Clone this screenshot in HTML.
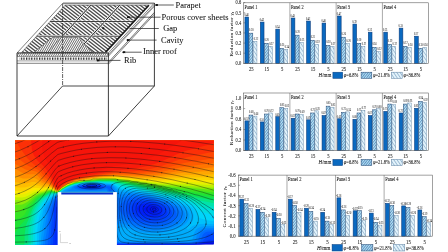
<!DOCTYPE html>
<html lang="en"><head><meta charset="utf-8"><title>Porous double-skin roof: model, flow field and wind load factors</title>
<style>html,body{margin:0;padding:0;background:#fff}svg{display:block}text{font-family:'Liberation Serif','DejaVu Serif',serif;stroke:#111;stroke-width:0.06px}</style></head><body>
<svg width="448" height="252" viewBox="0 0 448 252">
<defs>
<pattern id="h2" width="1.9" height="1.9" patternUnits="userSpaceOnUse" patternTransform="rotate(-52)"><rect width="1.9" height="1.9" fill="#b6dff3"/><rect width="1.9" height="0.6" fill="#2a68a6"/></pattern>
<pattern id="h3" width="2.7" height="2.7" patternUnits="userSpaceOnUse" patternTransform="rotate(56)"><rect width="2.7" height="2.7" fill="#e3f3fb"/><rect width="2.7" height="0.55" fill="#6a93b8"/></pattern>
<pattern id="stripe" width="2.72" height="2.72" patternUnits="userSpaceOnUse" patternTransform="rotate(38)"><rect width="2.72" height="2.72" fill="#fff"/><rect width="2.72" height="1.3" fill="#525252"/></pattern>
<pattern id="fine" width="1.45" height="1.45" patternUnits="userSpaceOnUse" patternTransform="rotate(-56)"><rect width="1.45" height="0.6" fill="#2c2c2c"/></pattern>
<pattern id="ticks" width="2.6" height="4" patternUnits="userSpaceOnUse"><rect width="1.25" height="4" fill="#262626"/></pattern>
<clipPath id="ncut"><path clip-rule="evenodd" d="M0,0H224V140H0Z M33.5,52.6 L52.4,37.4 L78.1,37.4 L92.5,52.6Z"/></clipPath>
</defs>
<rect width="448" height="252" fill="#fff"/>
<g id="sketch">
<clipPath id="cpan"><polygon points="21.66,52.40 105.48,52.40 148.86,5.25 65.04,5.25"/></clipPath>
<path clip-path="url(#cpan)" d="M75.56,-76.31L190.22,13.28M73.88,-74.16L188.55,15.42M72.21,-72.02L186.87,17.56M70.53,-69.88L185.20,19.71M68.86,-67.73L183.52,21.85M67.18,-65.59L181.85,23.99M65.51,-63.45L180.17,26.14M63.83,-61.30L178.50,28.28M62.16,-59.16L176.82,30.42M60.49,-57.02L175.15,32.57M58.81,-54.87L173.47,34.71M57.14,-52.73L171.80,36.85M55.46,-50.59L170.13,39.00M53.79,-48.44L168.45,41.14M52.11,-46.30L166.78,43.28M50.44,-44.16L165.10,45.43M48.76,-42.01L163.43,47.57M47.09,-39.87L161.75,49.72M45.41,-37.73L160.08,51.86M43.74,-35.58L158.40,54.00M42.07,-33.44L156.73,56.15M40.39,-31.30L155.05,58.29M38.72,-29.15L153.38,60.43M37.04,-27.01L151.70,62.58M35.37,-24.87L150.03,64.72M33.69,-22.72L148.36,66.86M32.02,-20.58L146.68,69.01M30.34,-18.44L145.01,71.15M28.67,-16.29L143.33,73.29M26.99,-14.15L141.66,75.44M25.32,-12.01L139.98,77.58M23.64,-9.86L138.31,79.72M21.97,-7.72L136.63,81.87M20.30,-5.58L134.96,84.01M18.62,-3.43L133.28,86.15M16.95,-1.29L131.61,88.30M15.27,0.85L129.93,90.44M13.60,3.00L128.26,92.58M11.92,5.14L126.59,94.73M10.25,7.28L124.91,96.87M8.57,9.43L123.24,99.01M6.90,11.57L121.56,101.16M5.22,13.72L119.89,103.30M3.55,15.86L118.21,105.44M1.87,18.00L116.54,107.59M0.20,20.15L114.86,109.73M-1.47,22.29L113.19,111.87M-3.15,24.43L111.51,114.02M-4.82,26.58L109.84,116.16M-6.50,28.72L108.17,118.30M-8.17,30.86L106.49,120.45M-9.85,33.01L104.82,122.59M-11.52,35.15L103.14,124.73M-13.20,37.29L101.47,126.88M-14.87,39.44L99.79,129.02M-16.55,41.58L98.12,131.16M-18.22,43.72L96.44,133.31" fill="none" stroke="#4c4c4c" stroke-width="1.3"/>
<polygon points="33.50,52.60 52.40,37.40 78.10,37.40 92.50,52.60" fill="#fff"/>
<clipPath id="ccut"><polygon points="33.50,52.60 52.40,37.40 78.10,37.40 92.50,52.60"/></clipPath>
<path clip-path="url(#ccut)" d="M16.04,56.05L49.08,-1.20M17.64,56.97L50.69,-0.27M19.24,57.90L52.29,0.65M20.84,58.82L53.89,1.58M22.44,59.75L55.49,2.50M24.05,60.67L57.09,3.43M25.65,61.60L58.70,4.35M27.25,62.52L60.30,5.28M28.85,63.45L61.90,6.20M30.45,64.37L63.50,7.13M32.06,65.30L65.10,8.05M33.66,66.22L66.71,8.98M35.26,67.15L68.31,9.90M36.86,68.07L69.91,10.83M38.47,69.00L71.51,11.75M40.07,69.92L73.12,12.68M41.67,70.85L74.72,13.60M43.27,71.77L76.32,14.53M44.87,72.70L77.92,15.45M46.48,73.62L79.52,16.38M48.08,74.55L81.13,17.30M49.68,75.47L82.73,18.23M51.28,76.40L84.33,19.15M52.88,77.32L85.93,20.08M54.49,78.25L87.53,21.00M56.09,79.17L89.14,21.93M57.69,80.10L90.74,22.85M59.29,81.02L92.34,23.78M60.90,81.95L93.94,24.70M62.50,82.87L95.55,25.63M64.10,83.80L97.15,26.55M65.70,84.72L98.75,27.48M67.30,85.65L100.35,28.40M68.91,86.57L101.95,29.33M70.51,87.50L103.56,30.25M72.11,88.42L105.16,31.18M73.71,89.35L106.76,32.10M75.31,90.27L108.36,33.03M76.92,91.20L109.96,33.95" fill="none" stroke="#2a2a2a" stroke-width="0.7"/>
<polygon points="33.50,52.60 52.40,37.40 78.10,37.40 92.50,52.60" fill="none" stroke="#333" stroke-width="0.5"/>
<g clip-path="url(#ncut)"><line x1="47.44" y1="52.40" x2="90.82" y2="5.25" stroke="#fff" stroke-width="2.0"/><line x1="47.44" y1="52.40" x2="90.82" y2="5.25" stroke="#1c1c1c" stroke-width="1.0"/></g>
<g clip-path="url(#ncut)"><line x1="36.52" y1="36.25" x2="120.34" y2="36.25" stroke="#fff" stroke-width="2.0"/><line x1="36.52" y1="36.25" x2="120.34" y2="36.25" stroke="#1c1c1c" stroke-width="0.85"/></g>
<g clip-path="url(#ncut)"><line x1="76.32" y1="52.40" x2="119.70" y2="5.25" stroke="#fff" stroke-width="2.0"/><line x1="76.32" y1="52.40" x2="119.70" y2="5.25" stroke="#1c1c1c" stroke-width="1.0"/></g>
<g clip-path="url(#ncut)"><line x1="50.09" y1="21.50" x2="133.91" y2="21.50" stroke="#fff" stroke-width="2.0"/><line x1="50.09" y1="21.50" x2="133.91" y2="21.50" stroke="#1c1c1c" stroke-width="0.85"/></g>
<line x1="47.44" y1="52.40" x2="90.82" y2="5.25" stroke="#333" stroke-width="0.4"/>
<line x1="76.32" y1="52.40" x2="119.70" y2="5.25" stroke="#333" stroke-width="0.4"/>
<line x1="62.6" y1="4" x2="62.6" y2="86" stroke="#222" stroke-width="0.7" stroke-dasharray="4 1 1 1"/>
<polygon points="17.00,53.00 108.40,53.00 154.40,3.00 63.00,3.00" fill="none" stroke="#2a2a2a" stroke-width="0.6"/>
<polyline points="62.86,3.75 153.16,3.75" fill="none" stroke="#2a2a2a" stroke-width="0.5"/>
<polygon points="21.66,52.40 105.48,52.40 148.86,5.25 65.04,5.25" fill="none" stroke="#2a2a2a" stroke-width="0.5"/>
<line x1="105.48" y1="52.40" x2="148.86" y2="5.25" stroke="#1e1e1e" stroke-width="1.7"/>
<line x1="108.40" y1="55.00" x2="154.40" y2="5.00" stroke="#2a2a2a" stroke-width="0.55"/>
<line x1="108.40" y1="56.30" x2="154.40" y2="6.30" stroke="#2a2a2a" stroke-width="0.5"/>
<line x1="108.40" y1="62.40" x2="154.40" y2="12.40" stroke="#2a2a2a" stroke-width="0.7"/>
<line x1="108.40" y1="64.20" x2="154.40" y2="14.20" stroke="#2a2a2a" stroke-width="0.6"/>
<line x1="17" y1="52.9" x2="108.4" y2="52.9" stroke="#2a2a2a" stroke-width="0.6"/>
<line x1="17" y1="56.4" x2="108.4" y2="56.4" stroke="#2a2a2a" stroke-width="0.45"/>
<line x1="17" y1="60.9" x2="108.4" y2="60.9" stroke="#2a2a2a" stroke-width="0.45"/>
<line x1="17" y1="63.3" x2="108.4" y2="63.3" stroke="#2a2a2a" stroke-width="0.6"/>
<rect x="19.5" y="57.5" width="87.5" height="2.3" fill="url(#ticks)"/>
<clipPath id="cfb"><rect x="17" y="53" width="91.4" height="3.4"/></clipPath><path clip-path="url(#cfb)" d="M-4.42,71.06L43.31,-11.61M-2.82,71.99L44.91,-10.69M-1.22,72.91L46.51,-9.76M0.38,73.84L48.11,-8.84M1.98,74.76L49.72,-7.91M3.59,75.69L51.32,-6.99M5.19,76.61L52.92,-6.06M6.79,77.54L54.52,-5.14M8.39,78.46L56.13,-4.21M10.00,79.39L57.73,-3.29M11.60,80.31L59.33,-2.36M13.20,81.24L60.93,-1.44M14.80,82.16L62.53,-0.51M16.40,83.09L64.14,0.41M18.01,84.01L65.74,1.34M19.61,84.94L67.34,2.26M21.21,85.86L68.94,3.19M22.81,86.79L70.54,4.11M24.41,87.71L72.15,5.04M26.02,88.64L73.75,5.96M27.62,89.56L75.35,6.89M29.22,90.49L76.95,7.81M30.82,91.41L78.56,8.74M32.43,92.34L80.16,9.66M34.03,93.26L81.76,10.59M35.63,94.19L83.36,11.51M37.23,95.11L84.96,12.44M38.83,96.04L86.57,13.36M40.44,96.96L88.17,14.29M42.04,97.89L89.77,15.21M43.64,98.81L91.37,16.14M45.24,99.74L92.97,17.06M46.84,100.66L94.58,17.99M48.45,101.59L96.18,18.91M50.05,102.51L97.78,19.84M51.65,103.44L99.38,20.76M53.25,104.36L100.99,21.69M54.86,105.29L102.59,22.61M56.46,106.21L104.19,23.54M58.06,107.14L105.79,24.46M59.66,108.06L107.39,25.39M61.26,108.99L109.00,26.31M62.87,109.91L110.60,27.24M64.47,110.84L112.20,28.16M66.07,111.76L113.80,29.09M67.67,112.69L115.40,30.01M69.27,113.61L117.01,30.94M70.88,114.54L118.61,31.86M72.48,115.46L120.21,32.79M74.08,116.39L121.81,33.71M75.68,117.31L123.42,34.64M77.29,118.24L125.02,35.56M78.89,119.16L126.62,36.49M80.49,120.09L128.22,37.41M82.09,121.01L129.82,38.34" fill="none" stroke="#333" stroke-width="0.65"/>
<path d="M17,53 V136 H108.4 V53 M108.4,136 L154.4,86 V3" fill="none" stroke="#1c1c1c" stroke-width="0.85"/>
<path d="M62.6,86 H154.4 M62.6,86 L17,136" fill="none" stroke="#1c1c1c" stroke-width="0.8"/>
<line x1="155.8" y1="5.0" x2="173.8" y2="5.0" stroke="#1a1a1a" stroke-width="0.7"/><circle cx="156.3" cy="5.0" r="1.05" fill="#111"/><path d="M155.20000000000002,5.0 l2.8,-1.1 v2.2 z" fill="#111"/>
<line x1="127.5" y1="17.2" x2="160.6" y2="17.2" stroke="#1a1a1a" stroke-width="0.7"/><circle cx="128.0" cy="17.2" r="1.05" fill="#111"/><path d="M126.9,17.2 l2.8,-1.1 v2.2 z" fill="#111"/>
<line x1="129.5" y1="28.5" x2="158.8" y2="28.5" stroke="#1a1a1a" stroke-width="0.7"/>
<line x1="127.2" y1="40.1" x2="156.6" y2="40.1" stroke="#1a1a1a" stroke-width="0.7"/><circle cx="127.7" cy="40.1" r="1.05" fill="#111"/><path d="M126.60000000000001,40.1 l2.8,-1.1 v2.2 z" fill="#111"/>
<line x1="123" y1="52.2" x2="141.7" y2="52.2" stroke="#1a1a1a" stroke-width="0.7"/><circle cx="123.5" cy="52.2" r="1.05" fill="#111"/><path d="M122.4,52.2 l2.8,-1.1 v2.2 z" fill="#111"/>
<line x1="97.2" y1="60.4" x2="120.5" y2="60.4" stroke="#1a1a1a" stroke-width="0.7"/><circle cx="97.7" cy="60.4" r="1.05" fill="#111"/><path d="M96.60000000000001,60.4 l2.8,-1.1 v2.2 z" fill="#111"/>
<circle cx="103.3" cy="28.3" r="1.1" fill="#111"/>
<text transform="translate(175.60,8.30) scale(0.945,1)" font-size="8.95" fill="#111">Parapet</text>
<text transform="translate(161.60,20.40) scale(0.945,1)" font-size="8.95" fill="#111">Porous cover sheets</text>
<text transform="translate(163.20,31.20) scale(0.945,1)" font-size="8.95" fill="#111">Gap</text>
<text transform="translate(161.00,43.00) scale(0.945,1)" font-size="8.95" fill="#111">Cavity</text>
<text transform="translate(142.90,54.00) scale(0.945,1)" font-size="8.95" fill="#111">Inner roof</text>
<text transform="translate(124.00,63.30) scale(0.945,1)" font-size="8.95" fill="#111">Rib</text>
</g>
<clipPath id="cfdclip"><rect x="15.0" y="140.5" width="198.7" height="104.1"/></clipPath>
<g id="cfd" clip-path="url(#cfdclip)">
<rect x="14.0" y="139.5" width="200.7" height="106.1" fill="#0000c8"/>
<path d="M14,138.5l201,0l0,105.7l-9,0.1l-9,1l-7,0.5l-71-0.1l-3,0.3l-1.4,0.5l-101.6,0l0-108z" fill="#000adf" fill-rule="evenodd"/>
<path d="M14,138.5l201,0l0,104.8l-8,0.1l-11,1.4l-6,0.4l-72,0l-3,0.3l-1.5,1l-100.5,0l0-108z" fill="#0011ef" fill-rule="evenodd"/>
<path d="M14,138.5l201,0l0,104.1l-7,0l-12,1.7l-7,0.5l-72-0.1l-3,0.6l-1.2,1.2l-99.8,0l0-108zM146.5,206.5l-1.9,1l-0.7,1l0.1,1.4l1.3,1.6l1.7,0.9l2,0.6l3,0.2l2-0.4l2-0.9l1-1.4l0-1l-0.4-1l-1-1l-1.6-0.8l-2-0.5l-3-0.1l-2,0.3z" fill="#0020f6" fill-rule="evenodd"/>
<path d="M14,138.5l201,0l0,103.2l-7,0l-11,2l-7,0.7l-73-0.1l-3,0.4l-1,0.5l-0.8,1.3l-55.8,0l0.1-14l-0.5-4.4l-0.4,5.4l0.1,13l-42.7,0l0-108zM89.8,185.5l-4.8,0.9l-0.3,0.1l0.3,0.3l0.9,0.7l1.1,0.1l6,0.3l3.8-0.4l1.4-1l-4.2-0.9l-4-0.1zM144.4,203.5l-4.2,1l-1.6,1l-1,1l-0.7,2l0.1,1.3l0.7,1.7l2.3,2.2l4,2.1l4,1l5,0.2l4-0.7l2.2-0.8l1.6-1l1.5-2l0.2-1l-0.5-2l-1.7-2l-1.3-1l-4-1.8l-5-1.1l-5-0.2zM56,207.5l0,6.3l1-1.9l0-5.2l-1,0.6z" fill="#0034f8" fill-rule="evenodd"/>
<path d="M14,138.5l201,0l0,101.5l-6-0.2l-8.3,2.7l-5.1,1l-4.6,0.4l-75,0l-3,0.5l-1,0.9l-0.4,1.2l-54,0l0-23l0.2-16l-0.3-5l-0.5-2.5l-1,1.1l-0.4,1.4l-0.7,3l-0.7,5l0,9l-0.9,14l-0.2,13l-40.1,0l0-108zM84.5,185.5l-2.8,1l0.3,1l2,0.5l6,0.6l7-0.3l3.8-0.8l0.5-1l-2.3-1l-7-0.5l-7,0.4zM139,201.5l-3,0.8l-2,1.1l-1.2,1.1l-1.3,2l-0.3,2l0.3,2l1,2l1.5,1.7l1.5,1.3l2.5,1.5l3,1.3l3,0.9l3,0.6l4,0.4l6-0.4l3-0.7l3-1.2l2-1.2l1.3-1.2l0.7-1.1l0.5-1.9l-0.5-2l-1.4-2l-2.3-2l-1.7-1l-4.5-2l-3.1-0.9l-8-1.4l-4,0l-3,0.3z" fill="#0048fa" fill-rule="evenodd"/>
<path d="M14,138.5l201,0l0,95.9l-5-0.4l-2,0.3l-1.6,1.2l-1.6,3l-1.9,2l-1.8,1l-3.1,1l-6,1l-67,0.1l-8-0.2l-5-0.6l-0.7,0.7l-0.3,3l-52.7,0l0.1-42l-0.4-5.4l-1-1.2l-1,0.9l-1.3,2.7l-2.1,9l-0.2,8l-1,7l-0.3,7l-0.6,7l-0.1,7l-37.4,0l0-108zM81.9,185.5l-2.8,1l-0.1,1l3,1l4,0.5l5,0.2l9-0.5l3.5-1.2l0.2-1l-1.9-1l-1.8-0.4l-4-0.4l-5-0.1l-5,0.3l-4,0.6zM135.1,199.5l-3.1,0.9l-2.1,1.1l-2.2,2l-1.2,2l-0.5,2l0.3,3l1.5,3l1.7,2l2.5,2l3,1.8l3,1.3l4,1.2l4,0.8l4,0.4l4,0l4.8-0.5l4.2-1l3-1.1l3.2-1.9l1.8-1.9l1-2.1l0-2l-0.7-2l-1.6-2l-2.4-2l-3.4-2l-4.9-2l-4-1.2l-5-1.2l-5-0.7l-5-0.3l-4,0.3z" fill="#005cfc" fill-rule="evenodd"/>
<path d="M14,138.5l201,0l0,93.2l-6-0.3l-2,0.4l-2,0.8l-2.1,1.9l-1.9,5l-1,1l-1.6,1l-3.4,1l-7,0.7l-62,0l-6-0.2l-4.1-0.5l-1.7-1l-0.7-2l-0.1-15l0.8-6l0.8-3.6l1.7-5.4l0.2-2l-1.9-6l-2.3-9l-1.3-3l-0.5-2l-0.9-1l-1-0.3l-3,0.1l-1.9-0.8l-4.1-0.9l-5-0.3l-10,0.2l-5.3,1l-2.9,1l-0.6,1l2,1l6.8,1.1l6,0.2l7-0.2l4-0.5l4-1.2l1,0.1l1.7,1.5l-0.5,8l0,42l0.3,3l0.3,1l1.2,1.7l0.4,1.3l-51.5,0l0-45l-0.5-4l-0.4-0.8l-1-0.1l-1.1,0.9l-1.9,3l-3.2,10l-0.4,8l-1.3,7l-0.2,7l-1.2,8l0,6l-34.7,0l0-108zM132,197.5l-3.7,1l-3.6,2l-3.3,3l-2.2,3l-0.5,1l0,1l0.4,1l1.2,2l3.5,4l3.5,3l3.2,2l4.2,2l4.3,1.4l5,1.1l5,0.6l6,0l5-0.5l5-1.1l4-1.4l3.7-2.1l2.2-2l1.2-2l0.4-1l0-2l-1.1-3l-1.7-2l-4-3l-3.9-2l-5.3-2l-6.5-1.9l-6-1.3l-6-0.9l-5-0.2l-5,0.3z" fill="#0070fe" fill-rule="evenodd"/>
<path d="M14,138.5l201,0l0,91.3l-7-0.3l-3,0.6l-2,0.9l-1.9,1.5l-0.7,1l-2.1,6l-1,1l-1.7,1l-4.1,1l-4.5,0.2l-62-0.1l-5-0.2l-3.4-0.9l-0.9-1l-0.5-2l-0.1-13l0.9-3.8l1-1.8l1-0.9l1-0.3l2,0.4l10.9,5.4l4.1,1.4l5,1.2l5,0.8l5,0.3l5,0l5-0.5l5-1l5-1.6l4-2l3-2.2l2-2.4l1-3l-0.5-3l-1.1-2l-1.8-2l-2.5-2l-5.4-3l-8-3l-11.7-3.1l-9-1.5l-8-0.6l-5,0.5l-8,2.2l-2-0.3l-1-0.8l-1-1.3l-3.6-8.1l-0.7-1l-1.7-1l-4-0.2l-7-1.2l-9-0.1l-7.3,0.5l-5.1,1l-2.8,1l-0.8,1l1,1.2l6,1.5l7,0.4l6,0l7-0.4l5-0.9l1,0.7l0.2,0.5l-0.4,8l0,42l0.4,3l0.5,1l1.3,1.1l0.6,0.9l-49.9,0l0-47l-0.4-3l-1.3-1l-1,0.2l-1,0.7l-2.4,3.1l-1.2,2l-3.3,8l-0.4,2l-0.3,7l-1.3,7l-0.5,7l-1.5,8l0.1,6l-32.2,0l0-108z" fill="#0084fe" fill-rule="evenodd"/>
<path d="M14,138.5l201,0l0,89.5l-8-0.2l-3,0.5l-3,1.2l-2,1.5l-1.1,1.5l-0.9,2l-1,4l-0.5,1l-1.5,1.2l-3,1l-4,0.3l-56-0.1l-7-0.1l-4-0.4l-1.9-0.9l-0.7-1l-0.5-3l0-10l0.8-2l1.3-1l1-0.2l2,0.3l12,4.5l5,1.2l5,0.9l5,0.4l6,0.1l5-0.4l5-0.7l5-1.2l5-1.8l4-2.1l3-2.3l2.2-2.7l1-3l-0.3-3l-0.9-2l-1.5-2l-2.2-2l-4.7-3l-6.8-3l-10.8-3.3l-11.4-2.7l-10.6-1.6l-6-0.3l-9,0.8l-2-0.3l-1-0.5l-1.2-1.1l-3.7-6l-1.3-1l-1.8-0.6l-4-0.2l-8-1.1l-13,0.3l-9,1.5l-2.6,1.1l-1.2,1l-1.2,1.7l-6,2.3l-5,2.8l-3.7,1.2l-3,3l-1.6,2l-3.9,7l-0.9,3l-0.4,7l-1.3,7l-0.9,8l-1.3,7l-0.1,7l-29.9,0l0-108z" fill="#0098fd" fill-rule="evenodd"/>
<path d="M14,138.5l201,0l0,87.7l-6-0.3l-4,0.1l-4,0.8l-3,1.3l-1.7,1.4l-1.4,2l-0.8,2l-1.4,5l-0.7,1l-1,0.6l-2,0.6l-59-0.1l-4.5-0.1l-3.5-0.6l-1-0.4l-1-1l-0.5-2l-0.2-7l0.1-1l0.6-1.2l1-0.2l2,0.2l13,4l5,0.9l6,0.7l6,0.2l5-0.1l6-0.7l5-1l6-1.7l4.9-2.1l4.1-2.5l2.8-2.5l1.5-2l1.1-3l0-3l-1.3-3l-1.7-2l-2.2-2l-4.7-3l-6.6-3l-9.3-3l-12.6-3.2l-12-2.3l-8-1l-11-0.2l-1-0.3l-1.5-1l-3.1-4l-1.2-1l-3.2-1.2l-4-0.1l-7-0.9l-14,0.3l-6.3,0.9l-4.3,1l-4.4,2.4l-5.9,2.6l-5.1,3.4l-3.6,1.6l-4.3,4l-3.7,5l-1.6,3l-0.9,3l-0.4,6l-1.8,9l-1.6,12l-0.2,9l-27.9,0l0-108z" fill="#00acfc" fill-rule="evenodd"/>
<path d="M14,138.5l201,0l0,85.7l-10-0.5l-4,0.2l-4,0.5l-4,1.3l-2,1.3l-2,2l-1,0.6l-0.4-0.1l-0.6-0.2l-0.2-0.8l4.2-4.7l2-3.6l0.7-2.7l-0.2-3l-1.4-3l-2.7-3l-4.1-3l-5.9-3l-5.1-2l-6.3-2l-20-4.9l-15-2.6l-13-1.2l-2-1.2l-3.4-3.1l-1.8-1l-1.8-0.6l-12-0.9l-9,0.1l-6.6,0.4l-6.5,1l-3.5,1l-10.4,4.9l-4,3l-3,1.3l-4.3,2.8l-2.2,2l-3.3,4l-1.9,3l-1.1,3l-2.9,15l-1.2,11l-0.2,11l-25.9,0l0-108z" fill="#00c1fb" fill-rule="evenodd"/>
<path d="M14,138.5l201,0l0,83l-9-1.6l-5-1.5l-2-0.9l-0.7-1l-1-3l-1.1-2l-2.6-3l-2.6-2l-3.3-2l-4.7-2.2l-5-2l-7-2.2l-18-4.4l-10.3-2.2l-11.7-2l-10-1.1l-2-0.9l-4.5-3l-3.5-1.1l-13-0.8l-11,0.3l-5.6,0.6l-7.4,1.5l-6.2,2.5l-3.9,2l-4.9,3.6l-3.7,1.4l-5.3,2.9l-3.3,3.1l-1.7,2l-2,3.2l-1.6,3.8l-2,7l-1.4,7l-0.9,9l-0.1,14l-24,0l0-108z" fill="#00d5fa" fill-rule="evenodd"/>
<path d="M14,138.5l201,0l0,77.2l-13-3.7l-2-1.3l-3.3-3.2l-4.6-3l-6.5-3l-6.6-2.4l-10-2.7l-21.4-4.9l-14.6-2.8l-11-1.5l-7-3.3l-3-0.8l-12-0.8l-6,0.1l-9,0.4l-8,1.2l-2.6,0.5l-5.2,2l-5.9,3l-5.3,3.8l-3.8,1.2l-4.2,1.7l-4.1,3.3l-3.3,4l-2.2,4l-2.4,6.2l-1,3.3l-1.1,5.5l-0.9,9l0,15l-22,0l0-108z" fill="#00dbe1" fill-rule="evenodd"/>
<path d="M14,138.5l201,0l0,72.2l-13-3.2l-7-3.9l-4-1.9l-6-2.2l-6.7-2l-9.3-2.3l-23-5l-23-4.1l-7-2.6l-3-0.8l-3-0.4l-4,0.1l-6-0.5l-5,0.1l-10,0.5l-9,1.4l-5.2,1.6l-4.4,2l-3.6,2l-4.8,3.6l-7,1.7l-1.7,0.7l-5.1,4l-2.5,3l-3,5l-2.6,6l-0.9,3l-1.3,6l-0.9,8l0,16l-20,0l0-108z" fill="#00e0c5" fill-rule="evenodd"/>
<path d="M14,138.5l201,0l0,68.3l-14-3.1l-10.6-4.2l-12.4-3.5l-34-7.1l-19-3.5l-11-3.1l-4-0.5l-12-0.2l-13,0.7l-9,1.3l-3.1,0.9l-5.1,2l-5.4,3l-4.4,3.4l-7,1l-2,0.8l-5.2,3.8l-2.1,2l-1.7,2l-3,5l-2.3,5l-3.2,12l-0.7,7l0.1,15l-17.9,0l0-108z" fill="#00e4a9" fill-rule="evenodd"/>
<path d="M14,138.5l201,0l0,64.9l-15-2.8l-10.1-3.1l-10.9-2.6l-53-10.4l-12-2.8l-4-0.3l-13-0.1l-12,0.7l-9.6,1.5l-8.1,3l-5.2,3l-4.1,3.2l-2,0.4l-5,0.1l-2,0.7l-6.9,4.6l-2.1,2l-1.6,2l-3.2,5l-2,4l-4.2,14l-0.5,3l-0.2,5l0.1,13l-15.4,0l0-108z" fill="#06e481" fill-rule="evenodd"/>
<path d="M14,138.5l201,0l0,61.9l-16-2.7l-17-3.7l-22-3.8l-45-8.9l-5-0.4l-11,0l-14,0.9l-10,1.6l-6,2l-2,1l-4,2.3l-5,3.7l-2,0.4l-5-0.3l-2,0.6l-7.3,4.4l-2.5,2l-1.8,2l-3.5,5l-1.7,3l-2.8,8l-2.7,6l-1,3l-1,8l-0.2,9l-0.4,3l-11.1,0l0-108z" fill="#0fe253" fill-rule="evenodd"/>
<path d="M14,138.5l201,0l0,59.1l-55-8.5l-44-8.3l-5.9-0.3l-11.1,0l-14,1l-9,1.4l-8,2.8l-5,2.7l-5,3.9l-2,0.3l-5-0.7l-2,0.4l-7.6,4.2l-3,2l-2.8,3l-4.5,6l-1.6,3l-2,6l-1.5,2.4l-6.7,7.6l-3.3,5.3l-1.8,1.7l-1.2,0.7l0-95.7z" fill="#20e234" fill-rule="evenodd"/>
<path d="M14,138.5l201,0l0,56.4l-55-6.9l-30.2-5.5l-13.8-2.2l-16-0.2l-15,1.2l-10,1.6l-6,2.1l-6,3.2l-5,3.9l-2,0.3l-4-1l-2.5,0.1l-10.3,5l-2.2,1.5l-1.7,1.5l-6.1,7l-2,3l-2.2,4.6l-2,2.2l-3,1.6l-7,2l0-81.4z" fill="#37e324" fill-rule="evenodd"/>
<path d="M14,138.5l201,0l0,54l-55-5.7l-44-7l-16,0l-14,1.1l-10,1.6l-6.3,2l-2.3,1l-4.4,2.5l-5,3.9l-2,0.2l-5-1.3l-3,0.5l-3,1.6l-6.5,2.6l-2.5,1.4l-15,13.9l-3,1.3l-5,0.7l0-74.3z" fill="#58e615" fill-rule="evenodd"/>
<path d="M14,138.5l201,0l0,51.7l-30-2.7l-25-1.8l-44-6.4l-17,0.2l-14,1.3l-10,1.7l-5.8,2l-2.2,1l-5,3l-3,2.6l-2,0.8l-2-0.3l-4-1.4l-2.6,0.3l-4.4,1.9l-5,1.6l-3.4,1.5l-2.6,1.8l-5,4.2l-3,1.7l-3,1.2l-3,0.3l-6,0l0-66.2z" fill="#8deb09" fill-rule="evenodd"/>
<path d="M14,138.5l201,0l0,49.3l-30-2.1l-25-1.2l-44-5.6l-16,0.2l-15,1.4l-10,1.8l-6,2.1l-2,0.9l-5,3l-4,3.2l-2,0.1l-5-1.9l-3,0.2l-4,1.6l-6,1.4l-3,1.1l-2.6,1.5l-4.4,3.2l-2,1l-2,0.6l-3,0.3l-5-0.5l-3,0.1l0-61.7z" fill="#bff000" fill-rule="evenodd"/>
<path d="M14,138.5l201,0l0,46.8l-30-1.5l-26-0.6l-16-1.6l-27-3.2l-16,0.4l-15,1.5l-10,1.7l-6,2.1l-2,1l-5,3l-4,3.3l-2,0l-5-2.2l-3,0l-4,1.3l-6,0.9l-3,0.7l-3,1.4l-5,2.8l-2,0.7l-3,0.4l-9-0.3l0-58.6z" fill="#e4f000" fill-rule="evenodd"/>
<path d="M14,138.5l201,0l0,44.2l-30-0.9l-25,0.3l-18-1.4l-26-2.8l-16,0.5l-15,1.6l-11,2.1l-7,2.8l-5,3.1l-3,2.6l-1,0.6l-1,0.1l-1-0.2l-5-2.5l-3-0.2l-5,1.3l-6,0l-2,0.3l-9,3.6l-3,0.7l-3,0.1l-7-0.2l0-55.7z" fill="#fbe800" fill-rule="evenodd"/>
<path d="M14,138.5l201,0l0,41.5l-30-0.3l-26,1l-18-0.9l-25-2.4l-15,0.6l-16,1.8l-11,2.1l-7,2.8l-4,2.3l-5,4l-1,0.1l-1-0.2l-5-2.9l-3-0.5l-5,0.9l-8-0.7l-2,0.4l-8,2.6l-5,0.5l-7-0.3l0-52.4z" fill="#fcd200" fill-rule="evenodd"/>
<path d="M14,138.5l201,0l0,38.7l-30,0.3l-26,1.9l-18-0.5l-25-2l-16,0.8l-14,1.6l-11,2l-7,2.6l-5,2.9l-4,3.4l-1,0.6l-1,0.1l-1.2-0.4l-3.8-2.6l-3-1.2l-6,0.3l-8-1.9l-2,0.1l-6,1.9l-3,0.4l-5,0l-6-0.7l0-48.3z" fill="#febd00" fill-rule="evenodd"/>
<path d="M14,138.5l201,0l0,35.7l-30,1l-27,2.8l-18-0.1l-24-1.6l-16,1l-15,1.9l-10,1.9l-8,3.1l-5,3.1l-3,2.7l-1,0.6l-1,0.1l-1-0.4l-4-2.9l-3-1.7l-5-0.1l-2-0.4l-7-3.2l-3,0l-5,1.2l-3,0.3l-4-0.4l-7-1.7l0-42.9z" fill="#ffa700" fill-rule="evenodd"/>
<path d="M14,138.5l201,0l0,32.3l-30,1.8l-24,3.5l-5,0.4l-18,0.3l-22-1.1l-17,1.3l-14,1.9l-11,2.2l-7,2.8l-5,3.2l-3,2.7l-1,0.6l-1,0l-1.7-0.9l-5.3-4.3l-2-0.9l-4-0.5l-2-0.7l-5-3.8l-2-1.1l-2-0.3l-6,0.7l-4-0.2l-3-0.9l-7-3.2l0-35.8z" fill="#ff8e00" fill-rule="evenodd"/>
<path d="M14,138.5l201,0l0,28.7l-30,2.6l-24,4.5l-6,0.6l-8.3,0.6l-8.7,0.2l-23-0.6l-14,1.2l-14,1.9l-11,2l-7,2.5l-6,3.4l-4,3.5l-1,0.5l-1,0l-1.2-0.6l-4.8-4.6l-2-1.5l-5-1.5l-2-1.2l-4-4.4l-2-1.5l-2-0.6l-6,0.1l-3-0.4l-3-1.2l-5.2-3.2l-3.8-1.3l0-29.7z" fill="#ff7500" fill-rule="evenodd"/>
<path d="M14,138.5l201,0l0,24.4l-29,3.5l-7,1.4l-18,4.3l-9,1.3l-16.2,1.1l-20.8-0.2l-15,1.6l-15,2.2l-10,2l-7,2.7l-5,3l-4,3.5l-1,0.5l-1,0l-1-0.6l-7-7.4l-5.1-2.3l-1.9-2l-3-3.8l-2-1.6l-3-1l-7-1.1l-2-0.8l-7-4l-5-2.2l0-24.5z" fill="#ff5c00" fill-rule="evenodd"/>
<path d="M14,138.5l201,0l0,19.5l-30,4.7l-6,1.5l-18,5.4l-10.1,1.9l-8.2,1l-8.7,0.6l-19,0.2l-15,1.9l-17,2.8l-8,1.7l-6,2.2l-2,1l-5,3.3l-3,2.8l-1,0.6l-1-0.1l-1.2-1l-3.3-4l-2.5-3.7l-1-0.9l-4-2.5l-3.8-4.9l-2.2-2.1l-2-1.1l-6-2.2l-3-1.4l-3.2-2.2l-6.8-5.3l-3-1.7l-2-0.7l0-17.3z" fill="#fd4603" fill-rule="evenodd"/>
<path d="M15,138.5l200,0l0,13.2l-3,0.4l-27,5.7l-7,2.2l-17.6,6.5l-12.4,2.9l-6.8,1.1l-9.4,1l-16.8,0.6l-30,4.8l-9,2l-8,3l-5,3.1l-4,3.7l-1,0.5l-1.5-0.7l-3.7-5l-1.8-3.6l-1-1.4l-3.1-3l-4.8-6l-2.1-1.7l-4.4-2.3l-2.8-2l-5.1-5l-7.5-10l-3.9-7l-2.1-3z" fill="#fc3007" fill-rule="evenodd"/>
<path d="M31,138.5l184,0l0,4.7l-3,0.5l-27,7.3l-7,2.8l-16.6,7.7l-5.5,2l-6.7,2l-9.2,2.1l-11,1.7l-14,0.9l-30,5.8l-9,2.1l-5,1.8l-4,1.8l-5,3.4l-3,3l-1,0.6l-1-0.6l-3-4.6l-3-6.7l-5-7.9l-3-3.5l-3.6-2.9l-1.9-2l-3.5-5l-1.3-3l-0.8-3l-0.7-8l-0.7-3z" fill="#fa1a0a" fill-rule="evenodd"/>
<path d="M43,138.5l142.6,0l-25.6,14.9l-11.7,5.1l-9.1,3l-7.7,2l-16.5,2.5l-16.1,4.5l-22.9,5.7l-2,0.7l-7,3.3l-5,3.6l-3,3.2l-1,0.6l-1.3-3.1l-1.7-2.9l-1-3l-1.4-7.1l-1.1-3l-6.2-10l-2.2-5l-0.7-4l-0.1-11z" fill="#f6140a" fill-rule="evenodd"/>
<g fill="none" stroke="#0a1018" stroke-opacity="0.85" stroke-width="0.45">
<path d="M216.3,201l-3.3-1.3l-3-0.6l-12-3.9l-3-0.5l-7.5-2.5l-3-0.5l-3-1l-3-0.5l-3-1l-3-0.4l-3-1l-3-0.5l-3-1l-4.5-0.5l-3-0.9l-6-0.6l-3-0.9l-6-0.6l-3-0.9l-6-0.5l-3-1l-10.5-0.5l-3-0.9l-12-0.2l-10.5,0.2l-1.5,0.6l-1.5,0.4l-10.5,0.6l-3,1.1l-4.5,0.4l-1.5,0.8l-3,0.8l-3,2.1l-1.5,0.7l-1.3,1l-3.2,3.2l-0.5,1.3l-0.2,1.5l-1.2,22.5l-1.1,10.5l-0.8,3.7l-0.7,2.3l-1,2.2l-1.7,2.3l-1.8,1.3l-2.3,1.2l-2.9,0.8l-3.4,0.6l-10.4,0.9l-18.5,0.4"/>
<path d="M216.7,196.5l-14.2-4.3l-11.8-3.2l-21.2-5.1l-13.5-2.7l-27-4.1l-15-1.4l-10.5-0.1l-9,0.3l-15,1.9l-7.5,1.7l-4.5,1.5l-4.5,2.3l-3,2.1l-1.5,1.3l-0.9,1.5l-1,3.8l-3,17.6l-2.1,7.9l-1.1,3l-1.4,3l-1.8,2.6l-2.3,2.5l-2.3,1.7l-2.3,1.2l-2.9,1.1l-3.4,1l-4.1,0.8l-5.2,0.7l-12.7,0.9"/>
<path d="M216,190.8l-22.5-6.2l-21-4.8l-16.5-3.1l-21-3.1l-7.5-0.8l-10.5-0.8l-6-0.3l-6,0l-6,0.1l-6,0.5l-13.5,1.8l-6,1.3l-6,1.9l-4.5,2l-4.5,2.7l-0.9,1.1l-1.8,4.4l-4.5,15l-2.9,7.5l-1.7,3.3l-1.8,2.7l-1.7,2.1l-2.3,2.2l-2.3,1.7l-2.3,1.3l-2.9,1.3l-3.5,1.1l-7.5,1.7l-10.4,1.3"/>
<path d="M216,184.9l-21-5.4l-21-4.6l-18-3.2l-19.5-2.6l-16.5-1.4l-13.5-0.4l-12,0.6l-7.5,0.8l-6,1l-7.5,1.6l-6,1.7l-6,2.5l-3,1.5l-0.9,0.9l-2.8,5.1l-5.8,13.6l-2.9,5.7l-1.8,2.7l-2.3,3.1l-2.3,2.4l-2.3,1.9l-2.3,1.6l-2.3,1.3l-5.8,2.3l-6.9,1.9l-8.1,1.3"/>
<path d="M216,178.5l-21-5l-19.5-4l-18-3l-18-2.3l-16.5-1.3l-7.5-0.3l-7.5,0l-7.5,0.2l-6,0.4l-12,1.5l-7.5,1.5l-6,1.6l-6,2l-4.5,1.9l-0.9,0.7l-0.6,0.7l-2.6,3.9l-7.2,12.7l-2.9,4.6l-3.4,4.4l-3.5,3.4l-4.6,3.4l-2.9,1.6l-2.9,1.3l-6.9,2.3l-8.1,1.8"/>
<path d="M216,172.2l-21-4.7l-19.5-3.7l-18-2.8l-18-2l-15-1.1l-15-0.2l-13.5,0.6l-7.5,0.7l-6,0.9l-6,1.1l-6,1.4l-6,1.7l-6,2.1l-1.5,1.2l-2.9,3.6l-8,11.5l-3.5,4.6l-3.4,3.8l-3.5,3.1l-4.6,3.2l-5.8,2.9l-6.3,2.3l-7,1.8"/>
<path d="M216,165.4l-19.5-4l-19.5-3.5l-18-2.5l-18-1.9l-15-1l-15-0.2l-13.5,0.6l-7.5,0.7l-6,0.7l-7.5,1.3l-6,1.3l-6,1.5l-6,1.9l-1.5,1l-3.4,3.6l-8.7,10.3l-3.4,3.9l-3.5,3.4l-3.5,2.8l-4.6,3.1l-5.2,2.7l-5.7,2.3l-7,2"/>
<path d="M216,158.7l-21-4l-19.5-3.1l-18-2.3l-16.5-1.6l-15-0.8l-15-0.1l-13.5,0.6l-13.5,1.4l-7.5,1.2l-7.5,1.6l-7.5,1.8l-3,0.9l-0.9,0.4l-4.9,4.3l-12.4,12.5l-3.5,3l-3.4,2.6l-4.6,2.9l-5.2,2.7l-5.2,2l-6.4,2"/>
<path d="M216,151.9l-21-3.7l-18-2.6l-18-2.2l-16.5-1.4l-16.5-0.8l-15,0l-13.5,0.7l-13.5,1.3l-7.5,1.1l-7.5,1.4l-9,2.1l-2.4,0.7l-5.8,4.5l-12.6,11.1l-7,5l-4.6,2.8l-4.6,2.3l-5.2,2.1l-5.8,1.8"/>
<path d="M216,145.1l-15-2.4l-15-2.2l-13.5-1.7l-12-1.3"/>
<path d="M82.5,137.7l-13.5,2.1l-9,1.8l-2.4,0.7l-6.3,4.3l-13.3,10.2l-6.3,4.3l-4.7,2.5l-4.6,2.3l-5.2,2l-5.2,1.8"/>
<path d="M216,138.4l-4.5-0.7"/>
<path d="M54.7,137.6l-5.2,3.4l-12.1,8.3l-6.9,4.2l-4,2.1l-4.7,2.1l-4.6,1.8l-5.2,1.8"/>
<path d="M43.8,137.6l-8.7,5.2l-7.5,4l-7.5,3.4l-8.1,2.8"/>
<path d="M29.9,137.7l-8.6,3.8l-9.3,3.3"/>
<path d="M124.5,181.4l3,0l1.5,0.3l1.5,0.6l6,0l1.5,0.3l0.4,0.4l1.1,0.5l6,0.1l1.5,0.2l0.7,0.7l0.8,0.4l6,0.1l1.5,0.2l0.8,0.8l0.7,0.3l4.5,0.4l0.8,0.8l0.7,0.3l3,0.3l0.9,0.9l0.6,0.3l4.5,0.4l0.8,0.8l0.7,0.4l3,0.3l0.8,0.8l0.7,0.4l3,0.4l0.7,0.7l0.8,0.5l3,0.4l1.5,1.1l3,0.7l1.5,1l1.5,0.5l1.5,1.1l1.5,0.6l1.5,1l1.5,0.7l3,2.4l1.1,0.5l6.4,3.8l3,2.1l3,2.4"/>
<path d="M216,241.4l-12,1.1l-13.5,0.7l-18,0.5l-21,0.1l-15-0.3l-9-0.4l-4.5-0.8l-1.5-0.4l-1.5-0.9l-1.5-1.7l-0.9-2.3l-0.5-3l-0.3-3l-0.5-7.5l-0.2-9l0.2-21l-0.8-1.3l-0.6-0.2l-1.8-1.5l-1.3-1.5l-0.6-1.5l0.1-1.5l1.1-1.5l2.7-1.5l4.9-1l4.5-0.6"/>
<path d="M126,184.3l3-0.3l7.5,0l3,0.5l6,0.4l3,0.8l6,0.4l3,1l3,0.4l1.5,0.4l1.5,0.7l3,0.7l1.5,0.7l3,0.5l1.5,0.5l1.5,0.7l3,0.9l1.5,0.7l1.5,0.4l6,2.4l4.3,1.9l5.1,3l4.1,3l7.2,6l3.1,3l3.6,4.5l1.7,3l1.3,3"/>
<path d="M216.4,229.5l-0.8,1.5l-1.3,1.5l-1.3,1.1l-3.2,1.9l-2.8,1.2l-4.5,1.4l-4.5,1l-5.2,0.9l-6.8,0.9l-9,0.7l-9,0.4l-10.5,0.2l-10.5-0.2l-7.5-0.3l-6-0.7l-4.5-0.8l-3-1.1l-1.5-0.8l-1.5-1.2l-1.4-1.6l-0.8-1.5l-1.2-3l-0.9-4.5l-0.6-4.5l-0.5-6l-0.2-7.5l0.2-6l0.6-10.5l0.1-1.5l0.4-1.5l0.9-1.5l1.7-1.5l1.7-0.8l3-0.9"/>
<path d="M135,186l9,0.2l10.5,1.2l7.5,1.7l6,1.9l3,0.8l4.9,1.7l8.6,3.7l4.4,2.3l2.3,1.5l3.9,3l3.1,3l2.6,3l2.2,3l1.7,3l1,3l0.5,3l-0.1,1.5l-0.8,3l-0.9,1.5l-1.1,1.5l-1.6,1.5l-2.2,1.5l-2.8,1.5l-3.7,1.5l-4,1.2l-8.8,1.8l-10.7,1.2l-9,0.4l-9,0l-9-0.6l-6-0.9l-4.5-1.2l-3-1.3l-3-2.1l-1.4-1.5l-1-1.5l-1.5-3l-1.3-4.5l-0.9-4.5l-0.5-4.5l-0.2-6l0.1-4.5l0.5-4.5l0.9-4.5l1.1-3l1.2-1.8l1.5-1.4l2.4-1.3l2.1-0.7l3-0.5l2.9-0.3z"/>
<path d="M132,188.9l4.5-0.8l7.5-0.2l9,0.7l7.5,1.5l10.5,3.1l8,3.3l5.7,3l2.3,1.5l3.7,3l1.5,1.5l2.5,3l1,1.5l1.5,3l1,3l0.2,1.5l0,3l-0.3,1.5l-1.2,3l-1,1.5l-1.4,1.5l-1.7,1.5l-2.2,1.5l-3,1.5l-4.6,1.8l-7.5,1.8l-7.5,1.1l-9,0.5l-9-0.2l-7.5-0.8l-5.5-1.2l-2-0.7l-3-1.3l-3-2.1l-1.8-1.9l-2.1-3l-1.3-3l-0.8-2.2l-0.9-3.8l-0.7-4.5l-0.2-4.5l0.1-3l0.3-3l0.6-3l1-3l1.3-2.5l1.5-1.8l1.5-1.2l1.5-0.9l2.8-1.1z"/>
<path d="M138,190.2l6-0.5l4.5,0.1l4.5,0.4l7.5,1.4l6.6,1.9l4.3,1.5l3.5,1.5l5.6,3l4.2,3l1.7,1.5l2.6,3l1,1.5l1.4,3l0.8,3l0.2,1.5l-0.3,3l-0.4,1.5l-1.5,3l-1.2,1.5l-1.5,1.5l-1.9,1.5l-2.4,1.5l-3.2,1.5l-3,1.1l-6,1.5l-6,0.9l-7.5,0.5l-7.5-0.2l-6-0.9l-4.5-1.1l-4.5-1.9l-3-2l-1.5-1.3l-1.5-1.7l-1.6-2.4l-1.4-2.8l-1.1-3.2l-0.7-3l-0.4-3l-0.2-3l0.2-3l0.5-3l0.9-3l0.7-1.5l0.8-1.5l1.2-1.5l1.7-1.5l2.4-1.5l1.5-0.6l3.1-0.9z"/>
<path d="M142.5,192l6-0.3l4.5,0.3l3,0.4l6,1.3l7.5,2.5l6,2.9l4.5,3l2.1,1.9l1.3,1.5l2,3l1.2,3l0.4,3l-0.1,1.5l-0.8,3l-0.8,1.5l-2.3,3l-1.6,1.5l-2.2,1.5l-3.7,1.9l-3,1.2l-3,0.8l-6,1.1l-6,0.5l-6-0.2l-6-0.9l-4.5-1.3l-4.5-2.1l-3-2.2l-1.5-1.5l-1.4-1.8l-1.6-2.6l-0.9-1.9l-0.9-3l-0.7-4.5l0.2-4.5l0.6-3l0.6-1.5l1.8-3l1.4-1.5l1.9-1.5l3.5-1.7l3-0.8l2.7-0.5z"/>
<path d="M141,194.6l4.5-0.8l6-0.1l4.5,0.5l6,1.3l6,2.1l4,1.9l2.4,1.5l2,1.5l3,3l1.9,3l0.9,3l0,3l-0.8,3l-0.8,1.5l-1.1,1.5l-1.4,1.5l-1.9,1.5l-3.7,2.1l-4.5,1.7l-4.5,1l-4.5,0.6l-6,0l-4.5-0.6l-4.5-1.1l-4.5-1.9l-3-2l-2.8-2.8l-2.1-3l-1.1-2.5l-0.6-2l-0.5-3l0-1.5l0.3-3l0.9-3l0.8-1.5l1.1-1.5l1.5-1.5l2.2-1.5l3.4-1.5z"/>
<path d="M144,196.3l4.5-0.6l4.5,0l5.5,0.8l5,1.4l4.5,1.9l2.2,1.2l2.2,1.5l1.7,1.5l1.4,1.5l1,1.5l0.8,1.5l0.5,1.5l0.2,1.5l0,1.5l-0.3,1.5l-0.5,1.5l-0.9,1.5l-2.3,2.6l-2.5,1.9l-3.5,1.7l-4.1,1.3l-3.4,0.6l-4.5,0.3l-4.5-0.2l-4.5-0.9l-3-1l-3.6-1.8l-2.4-1.8l-2.5-2.7l-1.8-3l-0.9-3l-0.3-3l0.1-1.5l0.8-3l1.6-2.6l1.9-1.9l2.6-1.6l3.7-1.4z"/>
<path d="M148.5,197.9l3-0.1l4.5,0.3l4.5,1l3,1l1.9,0.9l2.6,1.5l2,1.5l1.4,1.5l1.1,1.5l0.8,1.5l0.4,1.5l0.1,1.5l-0.2,1.5l-0.5,1.5l-0.6,1.1l-1.5,1.9l-1.8,1.5l-2.7,1.6l-4,1.4l-3.5,0.7l-4.5,0.2l-3-0.3l-3-0.6l-3-1l-3-1.6l-2.5-1.9l-2-2.3l-1.2-2.2l-0.8-3l0.1-3l0.4-1.6l0.7-1.4l0.8-1.1l1.9-1.9l2.6-1.5l3-1l2.5-0.5z"/>
<path d="M147,200.6l3-0.6l3-0.1l3,0.3l3,0.6l4.5,1.8l2.3,1.4l1.7,1.5l1.2,1.5l0.7,1.5l0.4,1.5l0,1.5l-0.4,1.5l-0.8,1.5l-2.1,2.1l-1.5,1l-3,1.3l-3,0.8l-3,0.3l-3-0.1l-3-0.5l-3-1l-1.8-0.9l-2.1-1.5l-1.5-1.5l-1.1-1.5l-0.7-1.5l-0.4-1.5l0-1.5l0.2-1.5l0.6-1.5l1-1.5l1.6-1.5l2.9-1.5z"/>
<path d="M150,202.5l1.5-0.2l3,0l3,0.5l3.3,1.2l2.4,1.5l1.4,1.5l0.9,1.5l0.3,1.5l-0.2,1.5l-0.7,1.5l-1.4,1.5l-1.5,0.9l-3,1.2l-1.5,0.3l-3,0.2l-3-0.4l-1.5-0.4l-1.5-0.5l-2.2-1.3l-1.6-1.5l-0.7-1l-0.8-2l-0.1-1.5l0.3-1.5l0.6-1l2-2l2.5-1.1l1.3-0.4z"/>
<path d="M150,205.1l3-0.5l3,0.2l2.2,0.7l2.4,1.5l1,1.5l0.3,1.5l-0.5,1.5l-1.5,1.5l-0.9,0.5l-3,0.8l-3-0.1l-3-0.9l-1.5-1l-0.8-0.8l-0.8-1.5l-0.1-1.5l0.6-1.5l1.7-1.5z"/>
<path d="M153,206.7l1.5,0l1.5,0.3l2.1,1.5l0.3,1.5l-0.9,1.1l-1.5,0.8l-1.5,0.1l-1.5-0.2l-1.5-0.6l-1.2-1.2l-0.1-1.5l1.6-1.5z"/>
<path d="M153,208.3l1.5-0.2l1.3,0.4l0.3,1.5l-0.1,0.1l-1.5,0.4l-1.5-0.3l-0.4-0.2l0-1.5z"/>
<g stroke="#000" stroke-opacity="0.95" stroke-width="0.55"><ellipse cx="91.7" cy="185.6" rx="9" ry="2.0"/><ellipse cx="91.7" cy="185.6" rx="5.2" ry="1.0"/></g><ellipse cx="91.7" cy="185.8" rx="14" ry="3.1"/>
</g>
<g fill="#0a0f18" fill-opacity="0.8">
<circle cx="184.2" cy="191.6" r="0.55"/>
<circle cx="151.1" cy="184.4" r="0.55"/>
<circle cx="117.7" cy="179.7" r="0.55"/>
<circle cx="84.0" cy="180.4" r="0.55"/>
<circle cx="57.6" cy="196.1" r="0.55"/>
<circle cx="54.8" cy="229.9" r="0.55"/>
<circle cx="26.2" cy="241.9" r="0.55"/>
<circle cx="180.4" cy="186.4" r="0.55"/>
<circle cx="147.1" cy="179.8" r="0.55"/>
<circle cx="113.4" cy="175.7" r="0.55"/>
<circle cx="79.5" cy="177.8" r="0.55"/>
<circle cx="55.7" cy="197.1" r="0.55"/>
<circle cx="44.9" cy="228.6" r="0.55"/>
<circle cx="187.2" cy="183.1" r="0.55"/>
<circle cx="153.9" cy="176.3" r="0.55"/>
<circle cx="120.2" cy="172.2" r="0.55"/>
<circle cx="86.3" cy="173.1" r="0.55"/>
<circle cx="56.3" cy="186.0" r="0.55"/>
<circle cx="43.8" cy="217.3" r="0.55"/>
<circle cx="195.0" cy="179.5" r="0.55"/>
<circle cx="161.8" cy="172.6" r="0.55"/>
<circle cx="128.0" cy="168.2" r="0.55"/>
<circle cx="94.1" cy="167.9" r="0.55"/>
<circle cx="61.2" cy="175.7" r="0.55"/>
<circle cx="44.6" cy="204.6" r="0.55"/>
<circle cx="15.7" cy="220.3" r="0.55"/>
<circle cx="207.2" cy="176.3" r="0.55"/>
<circle cx="174.0" cy="169.2" r="0.55"/>
<circle cx="140.3" cy="164.3" r="0.55"/>
<circle cx="106.4" cy="162.6" r="0.55"/>
<circle cx="72.7" cy="166.7" r="0.55"/>
<circle cx="48.5" cy="187.6" r="0.55"/>
<circle cx="23.8" cy="209.6" r="0.55"/>
<circle cx="193.2" cy="167.2" r="0.55"/>
<circle cx="159.7" cy="161.4" r="0.55"/>
<circle cx="125.9" cy="158.0" r="0.55"/>
<circle cx="91.9" cy="158.6" r="0.55"/>
<circle cx="58.9" cy="166.1" r="0.55"/>
<circle cx="37.6" cy="192.4" r="0.55"/>
<circle cx="208.5" cy="163.8" r="0.55"/>
<circle cx="175.0" cy="157.6" r="0.55"/>
<circle cx="141.3" cy="153.5" r="0.55"/>
<circle cx="107.3" cy="152.4" r="0.55"/>
<circle cx="73.6" cy="156.2" r="0.55"/>
<circle cx="46.1" cy="173.7" r="0.55"/>
<circle cx="19.0" cy="193.4" r="0.55"/>
<circle cx="183.0" cy="152.7" r="0.55"/>
<circle cx="149.3" cy="148.4" r="0.55"/>
<circle cx="115.3" cy="146.8" r="0.55"/>
<circle cx="81.4" cy="149.2" r="0.55"/>
<circle cx="50.6" cy="161.1" r="0.55"/>
<circle cx="24.3" cy="182.3" r="0.55"/>
<circle cx="198.4" cy="148.8" r="0.55"/>
<circle cx="164.7" cy="144.0" r="0.55"/>
<circle cx="130.8" cy="141.4" r="0.55"/>
<circle cx="96.8" cy="141.9" r="0.55"/>
<circle cx="63.3" cy="147.0" r="0.55"/>
<circle cx="36.0" cy="166.5" r="0.55"/>
<circle cx="180.1" cy="139.7" r="0.55"/>
<circle cx="68.5" cy="139.9" r="0.55"/>
<circle cx="39.3" cy="155.9" r="0.55"/>
<circle cx="48.6" cy="141.6" r="0.55"/>
<circle cx="19.3" cy="158.7" r="0.55"/>
<circle cx="28.0" cy="146.7" r="0.55"/>
<circle cx="151.8" cy="184.9" r="0.55"/>
<circle cx="183.1" cy="194.0" r="0.55"/>
<circle cx="212.7" cy="209.6" r="0.55"/>
<circle cx="196.1" cy="243.0" r="0.55"/>
<circle cx="162.1" cy="243.8" r="0.55"/>
<circle cx="128.2" cy="243.1" r="0.55"/>
<circle cx="116.2" cy="216.4" r="0.55"/>
<circle cx="112.2" cy="184.7" r="0.55"/>
<circle cx="154.2" cy="186.1" r="0.55"/>
<circle cx="186.5" cy="196.3" r="0.55"/>
<circle cx="213.0" cy="217.0" r="0.55"/>
<circle cx="211.9" cy="234.3" r="0.55"/>
<circle cx="178.9" cy="241.5" r="0.55"/>
<circle cx="145.0" cy="242.0" r="0.55"/>
<circle cx="118.8" cy="227.1" r="0.55"/>
<circle cx="118.2" cy="193.2" r="0.55"/>
<circle cx="154.5" cy="187.4" r="0.55"/>
<circle cx="186.6" cy="198.3" r="0.55"/>
<circle cx="206.0" cy="224.1" r="0.55"/>
<circle cx="177.6" cy="238.9" r="0.55"/>
<circle cx="143.6" cy="239.6" r="0.55"/>
<circle cx="120.1" cy="220.3" r="0.55"/>
<circle cx="125.5" cy="188.2" r="0.55"/>
<circle cx="147.4" cy="188.1" r="0.55"/>
<circle cx="180.0" cy="197.0" r="0.55"/>
<circle cx="197.9" cy="222.8" r="0.55"/>
<circle cx="168.8" cy="237.1" r="0.55"/>
<circle cx="135.1" cy="234.9" r="0.55"/>
<circle cx="121.3" cy="206.5" r="0.55"/>
<circle cx="175.6" cy="196.8" r="0.55"/>
<circle cx="190.5" cy="222.9" r="0.55"/>
<circle cx="160.0" cy="234.9" r="0.55"/>
<circle cx="128.7" cy="225.5" r="0.55"/>
<circle cx="129.0" cy="194.0" r="0.55"/>
<circle cx="165.8" cy="194.8" r="0.55"/>
<circle cx="186.5" cy="217.8" r="0.55"/>
<circle cx="157.8" cy="232.0" r="0.55"/>
<circle cx="128.7" cy="218.7" r="0.55"/>
<circle cx="167.8" cy="197.5" r="0.55"/>
<circle cx="177.0" cy="222.9" r="0.55"/>
<circle cx="144.4" cy="227.3" r="0.55"/>
<circle cx="131.5" cy="200.8" r="0.55"/>
<circle cx="172.1" cy="202.3" r="0.55"/>
<circle cx="162.4" cy="225.3" r="0.55"/>
<circle cx="133.4" cy="213.5" r="0.55"/>
<circle cx="167.0" cy="201.9" r="0.55"/>
<circle cx="157.4" cy="222.8" r="0.55"/>
<circle cx="137.4" cy="203.7" r="0.55"/>
<circle cx="164.6" cy="203.2" r="0.55"/>
<circle cx="149.8" cy="219.3" r="0.55"/>
<circle cx="165.6" cy="209.0" r="0.55"/>
<circle cx="143.9" cy="206.2" r="0.55"/>
<circle cx="153.5" cy="211.9" r="0.55"/>
</g>
</g>
<rect x="57.7" y="192.1" width="59.2" height="53.5" fill="#fff"/>
<rect x="61.3" y="192.3" width="51.8" height="2.2" fill="#0a2ccc"/><rect x="61.3" y="191.7" width="51.8" height="0.7" fill="#2cc8c0"/>
<path d="M60.4,233.5 V242.6 H68" fill="none" stroke="#9a9a9a" stroke-width="0.4"/>
<text x="59.4" y="232" font-size="2.2" fill="#999">z</text><text x="69.6" y="243.6" font-size="2.2" fill="#999">x</text>
<g id="chart1">
<rect x="244.94" y="17.01" width="3.65" height="46.29" fill="#0a69c0" stroke="#0b3c7c" stroke-width="0.6"/>
<rect x="260.36" y="22.07" width="3.65" height="41.23" fill="#0a69c0" stroke="#0b3c7c" stroke-width="0.6"/>
<rect x="275.79" y="29.15" width="3.65" height="34.15" fill="#0a69c0" stroke="#0b3c7c" stroke-width="0.6"/>
<rect x="291.21" y="18.02" width="3.65" height="45.28" fill="#0a69c0" stroke="#0b3c7c" stroke-width="0.6"/>
<rect x="306.64" y="21.06" width="3.65" height="42.24" fill="#0a69c0" stroke="#0b3c7c" stroke-width="0.6"/>
<rect x="322.06" y="23.08" width="3.65" height="40.22" fill="#0a69c0" stroke="#0b3c7c" stroke-width="0.6"/>
<rect x="337.49" y="16.00" width="3.65" height="47.30" fill="#0a69c0" stroke="#0b3c7c" stroke-width="0.6"/>
<rect x="352.91" y="24.09" width="3.65" height="39.21" fill="#0a69c0" stroke="#0b3c7c" stroke-width="0.6"/>
<rect x="368.34" y="32.19" width="3.65" height="31.11" fill="#0a69c0" stroke="#0b3c7c" stroke-width="0.6"/>
<rect x="383.76" y="32.19" width="3.65" height="31.11" fill="#0a69c0" stroke="#0b3c7c" stroke-width="0.6"/>
<rect x="399.19" y="28.14" width="3.65" height="35.16" fill="#0a69c0" stroke="#0b3c7c" stroke-width="0.6"/>
<rect x="414.61" y="36.23" width="3.65" height="27.07" fill="#0a69c0" stroke="#0b3c7c" stroke-width="0.6"/>
<clipPath id="c2a"><rect x="249.04" y="33.15" width="3.75" height="30.15"/><rect x="264.46" y="43.27" width="3.75" height="20.03"/><rect x="279.89" y="48.32" width="3.75" height="14.98"/><rect x="295.31" y="35.17" width="3.75" height="28.13"/><rect x="310.74" y="40.23" width="3.75" height="23.07"/><rect x="326.16" y="45.29" width="3.75" height="18.01"/><rect x="341.59" y="37.20" width="3.75" height="26.10"/><rect x="357.01" y="43.27" width="3.75" height="20.03"/><rect x="372.44" y="47.31" width="3.75" height="15.99"/><rect x="387.86" y="44.28" width="3.75" height="19.02"/><rect x="403.29" y="46.30" width="3.75" height="17.00"/><rect x="418.71" y="48.32" width="3.75" height="14.98"/></clipPath><clipPath id="c3a"><rect x="253.17" y="41.22" width="3.79" height="22.08"/><rect x="268.59" y="46.28" width="3.79" height="17.02"/><rect x="284.02" y="49.32" width="3.79" height="13.98"/><rect x="299.44" y="42.23" width="3.79" height="21.07"/><rect x="314.87" y="44.26" width="3.79" height="19.04"/><rect x="330.29" y="46.28" width="3.79" height="17.02"/><rect x="345.72" y="43.25" width="3.79" height="20.05"/><rect x="361.14" y="46.28" width="3.79" height="17.02"/><rect x="376.57" y="51.34" width="3.79" height="11.96"/><rect x="391.99" y="46.28" width="3.79" height="17.02"/><rect x="407.42" y="47.29" width="3.79" height="16.01"/><rect x="422.84" y="47.29" width="3.79" height="16.01"/></clipPath>
<g fill="#b6dff3"><rect x="249.04" y="33.15" width="3.75" height="30.15"/><rect x="264.46" y="43.27" width="3.75" height="20.03"/><rect x="279.89" y="48.32" width="3.75" height="14.98"/><rect x="295.31" y="35.17" width="3.75" height="28.13"/><rect x="310.74" y="40.23" width="3.75" height="23.07"/><rect x="326.16" y="45.29" width="3.75" height="18.01"/><rect x="341.59" y="37.20" width="3.75" height="26.10"/><rect x="357.01" y="43.27" width="3.75" height="20.03"/><rect x="372.44" y="47.31" width="3.75" height="15.99"/><rect x="387.86" y="44.28" width="3.75" height="19.02"/><rect x="403.29" y="46.30" width="3.75" height="17.00"/><rect x="418.71" y="48.32" width="3.75" height="14.98"/></g><g fill="#e3f3fb"><rect x="253.17" y="41.22" width="3.79" height="22.08"/><rect x="268.59" y="46.28" width="3.79" height="17.02"/><rect x="284.02" y="49.32" width="3.79" height="13.98"/><rect x="299.44" y="42.23" width="3.79" height="21.07"/><rect x="314.87" y="44.26" width="3.79" height="19.04"/><rect x="330.29" y="46.28" width="3.79" height="17.02"/><rect x="345.72" y="43.25" width="3.79" height="20.05"/><rect x="361.14" y="46.28" width="3.79" height="17.02"/><rect x="376.57" y="51.34" width="3.79" height="11.96"/><rect x="391.99" y="46.28" width="3.79" height="17.02"/><rect x="407.42" y="47.29" width="3.79" height="16.01"/><rect x="422.84" y="47.29" width="3.79" height="16.01"/></g>
<path clip-path="url(#c2a)" d="M194.12,48.19L316.48,-108.42M195.62,49.36L317.97,-107.25M197.12,50.53L319.47,-106.08M198.61,51.70L320.97,-104.91M200.11,52.87L322.47,-103.74M201.61,54.04L323.96,-102.57M203.11,55.20L325.46,-101.40M204.60,56.37L326.96,-100.23M206.10,57.54L328.46,-99.06M207.60,58.71L329.95,-97.89M209.10,59.88L331.45,-96.72M210.59,61.05L332.95,-95.55M212.09,62.22L334.44,-94.38M213.59,63.39L335.94,-93.21M215.08,64.56L337.44,-92.04M216.58,65.73L338.94,-90.87M218.08,66.90L340.43,-89.70M219.58,68.07L341.93,-88.53M221.07,69.24L343.43,-87.36M222.57,70.41L344.92,-86.19M224.07,71.58L346.42,-85.02M225.56,72.75L347.92,-83.86M227.06,73.92L349.42,-82.69M228.56,75.09L350.91,-81.52M230.06,76.26L352.41,-80.35M231.55,77.43L353.91,-79.18M233.05,78.60L355.40,-78.01M234.55,79.77L356.90,-76.84M236.05,80.94L358.40,-75.67M237.54,82.11L359.90,-74.50M239.04,83.28L361.39,-73.33M240.54,84.45L362.89,-72.16M242.03,85.62L364.39,-70.99M243.53,86.79L365.89,-69.82M245.03,87.96L367.38,-68.65M246.53,89.13L368.88,-67.48M248.02,90.30L370.38,-66.31M249.52,91.47L371.87,-65.14M251.02,92.64L373.37,-63.97M252.51,93.81L374.87,-62.80M254.01,94.98L376.37,-61.63M255.51,96.15L377.86,-60.46M257.01,97.32L379.36,-59.29M258.50,98.49L380.86,-58.12M260.00,99.66L382.35,-56.95M261.50,100.83L383.85,-55.78M263.00,102.00L385.35,-54.61M264.49,103.16L386.85,-53.44M265.99,104.33L388.34,-52.27M267.49,105.50L389.84,-51.10M268.98,106.67L391.34,-49.93M270.48,107.84L392.84,-48.76M271.98,109.01L394.33,-47.59M273.48,110.18L395.83,-46.42M274.97,111.35L397.33,-45.25M276.47,112.52L398.82,-44.08M277.97,113.69L400.32,-42.91M279.46,114.86L401.82,-41.74M280.96,116.03L403.32,-40.57M282.46,117.20L404.81,-39.40M283.96,118.37L406.31,-38.23M285.45,119.54L407.81,-37.06M286.95,120.71L409.30,-35.90M288.45,121.88L410.80,-34.73M289.95,123.05L412.30,-33.56M291.44,124.22L413.80,-32.39M292.94,125.39L415.29,-31.22M294.44,126.56L416.79,-30.05M295.93,127.73L418.29,-28.88M297.43,128.90L419.79,-27.71M298.93,130.07L421.28,-26.54M300.43,131.24L422.78,-25.37M301.92,132.41L424.28,-24.20M303.42,133.58L425.77,-23.03M304.92,134.75L427.27,-21.86M306.41,135.92L428.77,-20.69M307.91,137.09L430.27,-19.52M309.41,138.26L431.76,-18.35M310.91,139.43L433.26,-17.18M312.40,140.60L434.76,-16.01M313.90,141.77L436.25,-14.84M315.40,142.94L437.75,-13.67M316.90,144.11L439.25,-12.50M318.39,145.28L440.75,-11.33M319.89,146.45L442.24,-10.16M321.39,147.62L443.74,-8.99M322.88,148.79L445.24,-7.82M324.38,149.96L446.74,-6.65M325.88,151.12L448.23,-5.48M327.38,152.29L449.73,-4.31M328.87,153.46L451.23,-3.14M330.37,154.63L452.72,-1.97M331.87,155.80L454.22,-0.80M333.36,156.97L455.72,0.37M334.86,158.14L457.22,1.54M336.36,159.31L458.71,2.71M337.86,160.48L460.21,3.88M339.35,161.65L461.71,5.05M340.85,162.82L463.20,6.22M342.35,163.99L464.70,7.39M343.84,165.16L466.20,8.56M345.34,166.33L467.70,9.73M346.84,167.50L469.19,10.90M348.34,168.67L470.69,12.06M349.83,169.84L472.19,13.23M351.33,171.01L473.69,14.40M352.83,172.18L475.18,15.57M354.33,173.35L476.68,16.74M355.82,174.52L478.18,17.91" fill="none" stroke="#2a68a6" stroke-width="0.6"/>
<path clip-path="url(#c3a)" d="M365.64,-106.70L476.78,58.06M363.40,-105.19L474.54,59.57M361.17,-103.68L472.30,61.08M358.93,-102.17L470.06,62.59M356.69,-100.66L467.82,64.10M354.45,-99.15L465.58,65.61M352.21,-97.64L463.34,67.12M349.97,-96.13L461.11,68.63M347.74,-94.62L458.87,70.14M345.50,-93.11L456.63,71.65M343.26,-91.60L454.39,73.15M341.02,-90.10L452.15,74.66M338.78,-88.59L449.91,76.17M336.54,-87.08L447.68,77.68M334.31,-85.57L445.44,79.19M332.07,-84.06L443.20,80.70M329.83,-82.55L440.96,82.21M327.59,-81.04L438.72,83.72M325.35,-79.53L436.48,85.23M323.11,-78.02L434.25,86.74M320.88,-76.51L432.01,88.25M318.64,-75.00L429.77,89.76M316.40,-73.49L427.53,91.27M314.16,-71.98L425.29,92.78M311.92,-70.47L423.05,94.29M309.68,-68.96L420.82,95.80M307.44,-67.45L418.58,97.31M305.21,-65.94L416.34,98.82M302.97,-64.43L414.10,100.33M300.73,-62.92L411.86,101.84M298.49,-61.41L409.62,103.35M296.25,-59.90L407.38,104.86M294.01,-58.39L405.15,106.37M291.78,-56.88L402.91,107.88M289.54,-55.37L400.67,109.39M287.30,-53.86L398.43,110.90M285.06,-52.35L396.19,112.41M282.82,-50.84L393.95,113.92M280.58,-49.33L391.72,115.43M278.35,-47.82L389.48,116.94M276.11,-46.31L387.24,118.45M273.87,-44.80L385.00,119.96M271.63,-43.29L382.76,121.47M269.39,-41.78L380.52,122.98M267.15,-40.27L378.29,124.49M264.92,-38.76L376.05,126.00M262.68,-37.25L373.81,127.51M260.44,-35.74L371.57,129.02M258.20,-34.23L369.33,130.53M255.96,-32.72L367.09,132.04M253.72,-31.21L364.86,133.55M251.48,-29.70L362.62,135.06M249.25,-28.19L360.38,136.57M247.01,-26.68L358.14,138.08M244.77,-25.17L355.90,139.59M242.53,-23.66L353.66,141.10M240.29,-22.15L351.42,142.61M238.05,-20.64L349.19,144.12M235.82,-19.13L346.95,145.63M233.58,-17.62L344.71,147.14M231.34,-16.11L342.47,148.65M229.10,-14.60L340.23,150.16M226.86,-13.09L337.99,151.67M224.62,-11.58L335.76,153.18M222.39,-10.07L333.52,154.69M220.15,-8.56L331.28,156.20M217.91,-7.05L329.04,157.70M215.67,-5.55L326.80,159.21M213.43,-4.04L324.56,160.72M211.19,-2.53L322.33,162.23M208.96,-1.02L320.09,163.74M206.72,0.49L317.85,165.25M204.48,2.00L315.61,166.76M202.24,3.51L313.37,168.27M200.00,5.02L311.13,169.78M197.76,6.53L308.90,171.29M195.52,8.04L306.66,172.80" fill="none" stroke="#6a93b8" stroke-width="0.55"/>
<g fill="none" stroke="#1f426e" stroke-width="0.5"><rect x="249.04" y="33.15" width="3.75" height="30.15"/><rect x="264.46" y="43.27" width="3.75" height="20.03"/><rect x="279.89" y="48.32" width="3.75" height="14.98"/><rect x="295.31" y="35.17" width="3.75" height="28.13"/><rect x="310.74" y="40.23" width="3.75" height="23.07"/><rect x="326.16" y="45.29" width="3.75" height="18.01"/><rect x="341.59" y="37.20" width="3.75" height="26.10"/><rect x="357.01" y="43.27" width="3.75" height="20.03"/><rect x="372.44" y="47.31" width="3.75" height="15.99"/><rect x="387.86" y="44.28" width="3.75" height="19.02"/><rect x="403.29" y="46.30" width="3.75" height="17.00"/><rect x="418.71" y="48.32" width="3.75" height="14.98"/></g><g fill="none" stroke="#5b7f9f" stroke-width="0.4"><rect x="253.17" y="41.22" width="3.79" height="22.08"/><rect x="268.59" y="46.28" width="3.79" height="17.02"/><rect x="284.02" y="49.32" width="3.79" height="13.98"/><rect x="299.44" y="42.23" width="3.79" height="21.07"/><rect x="314.87" y="44.26" width="3.79" height="19.04"/><rect x="330.29" y="46.28" width="3.79" height="17.02"/><rect x="345.72" y="43.25" width="3.79" height="20.05"/><rect x="361.14" y="46.28" width="3.79" height="17.02"/><rect x="376.57" y="51.34" width="3.79" height="11.96"/><rect x="391.99" y="46.28" width="3.79" height="17.02"/><rect x="407.42" y="47.29" width="3.79" height="16.01"/><rect x="422.84" y="47.29" width="3.79" height="16.01"/></g>
<text transform="translate(246.46,15.86) scale(0.83,1)" font-size="3.00" text-anchor="middle" fill="#505050" stroke="none">0.46</text>
<text transform="translate(251.21,31.15) scale(0.83,1)" font-size="3.00" text-anchor="middle" fill="#505050" stroke="none">0.30</text>
<text transform="translate(255.96,40.14) scale(0.83,1)" font-size="3.00" text-anchor="middle" fill="#505050" stroke="none">0.22</text>
<text transform="translate(261.89,20.92) scale(0.83,1)" font-size="3.00" text-anchor="middle" fill="#505050" stroke="none">0.41</text>
<text transform="translate(266.64,41.27) scale(0.83,1)" font-size="3.00" text-anchor="middle" fill="#505050" stroke="none">0.20</text>
<text transform="translate(271.39,45.20) scale(0.83,1)" font-size="3.00" text-anchor="middle" fill="#505050" stroke="none">0.17</text>
<text transform="translate(277.31,28.00) scale(0.83,1)" font-size="3.00" text-anchor="middle" fill="#505050" stroke="none">0.34</text>
<text transform="translate(282.06,46.32) scale(0.83,1)" font-size="3.00" text-anchor="middle" fill="#505050" stroke="none">0.15</text>
<text transform="translate(286.81,48.24) scale(0.83,1)" font-size="3.00" text-anchor="middle" fill="#505050" stroke="none">0.14</text>
<text transform="translate(292.74,16.87) scale(0.83,1)" font-size="3.00" text-anchor="middle" fill="#505050" stroke="none">0.45</text>
<text transform="translate(297.49,33.17) scale(0.83,1)" font-size="3.00" text-anchor="middle" fill="#505050" stroke="none">0.28</text>
<text transform="translate(302.24,41.15) scale(0.83,1)" font-size="3.00" text-anchor="middle" fill="#505050" stroke="none">0.21</text>
<text transform="translate(308.16,19.91) scale(0.83,1)" font-size="3.00" text-anchor="middle" fill="#505050" stroke="none">0.42</text>
<text transform="translate(312.91,38.23) scale(0.83,1)" font-size="3.00" text-anchor="middle" fill="#505050" stroke="none">0.23</text>
<text transform="translate(317.66,43.18) scale(0.83,1)" font-size="3.00" text-anchor="middle" fill="#505050" stroke="none">0.19</text>
<text transform="translate(323.59,21.93) scale(0.83,1)" font-size="3.00" text-anchor="middle" fill="#505050" stroke="none">0.40</text>
<text transform="translate(328.34,43.29) scale(0.83,1)" font-size="3.00" text-anchor="middle" fill="#505050" stroke="none">0.18</text>
<text transform="translate(333.09,45.20) scale(0.83,1)" font-size="3.00" text-anchor="middle" fill="#505050" stroke="none">0.17</text>
<text transform="translate(339.01,14.85) scale(0.83,1)" font-size="3.00" text-anchor="middle" fill="#505050" stroke="none">0.47</text>
<text transform="translate(343.76,35.20) scale(0.83,1)" font-size="3.00" text-anchor="middle" fill="#505050" stroke="none">0.26</text>
<text transform="translate(348.51,42.17) scale(0.83,1)" font-size="3.00" text-anchor="middle" fill="#505050" stroke="none">0.20</text>
<text transform="translate(354.44,22.94) scale(0.83,1)" font-size="3.00" text-anchor="middle" fill="#505050" stroke="none">0.39</text>
<text transform="translate(359.19,41.27) scale(0.83,1)" font-size="3.00" text-anchor="middle" fill="#505050" stroke="none">0.20</text>
<text transform="translate(363.94,45.20) scale(0.83,1)" font-size="3.00" text-anchor="middle" fill="#505050" stroke="none">0.17</text>
<text transform="translate(369.86,31.04) scale(0.83,1)" font-size="3.00" text-anchor="middle" fill="#505050" stroke="none">0.31</text>
<text transform="translate(374.61,45.31) scale(0.83,1)" font-size="3.00" text-anchor="middle" fill="#505050" stroke="none">0.16</text>
<text transform="translate(379.36,50.26) scale(0.83,1)" font-size="3.00" text-anchor="middle" fill="#505050" stroke="none">0.12</text>
<text transform="translate(385.29,31.04) scale(0.83,1)" font-size="3.00" text-anchor="middle" fill="#505050" stroke="none">0.31</text>
<text transform="translate(390.04,42.28) scale(0.83,1)" font-size="3.00" text-anchor="middle" fill="#505050" stroke="none">0.19</text>
<text transform="translate(394.79,45.20) scale(0.83,1)" font-size="3.00" text-anchor="middle" fill="#505050" stroke="none">0.17</text>
<text transform="translate(400.71,26.99) scale(0.83,1)" font-size="3.00" text-anchor="middle" fill="#505050" stroke="none">0.35</text>
<text transform="translate(405.46,44.30) scale(0.83,1)" font-size="3.00" text-anchor="middle" fill="#505050" stroke="none">0.17</text>
<text transform="translate(410.21,46.21) scale(0.83,1)" font-size="3.00" text-anchor="middle" fill="#505050" stroke="none">0.16</text>
<text transform="translate(416.14,35.08) scale(0.83,1)" font-size="3.00" text-anchor="middle" fill="#505050" stroke="none">0.27</text>
<text transform="translate(420.89,46.32) scale(0.83,1)" font-size="3.00" text-anchor="middle" fill="#505050" stroke="none">0.15</text>
<text transform="translate(425.64,46.21) scale(0.83,1)" font-size="3.00" text-anchor="middle" fill="#505050" stroke="none">0.16</text>
<rect x="243.60" y="2.80" width="185.10" height="60.50" fill="none" stroke="#555" stroke-width="0.55"/>
<line x1="289.88" y1="2.80" x2="289.88" y2="63.30" stroke="#555" stroke-width="0.5"/>
<line x1="336.15" y1="2.80" x2="336.15" y2="63.30" stroke="#555" stroke-width="0.5"/>
<line x1="382.42" y1="2.80" x2="382.42" y2="63.30" stroke="#555" stroke-width="0.5"/>
<text transform="translate(244.60,8.50) scale(0.83,1)" font-size="5.20" fill="#111">Panel 1</text>
<text transform="translate(290.88,8.50) scale(0.83,1)" font-size="5.20" fill="#111">Panel 2</text>
<text transform="translate(337.15,8.50) scale(0.83,1)" font-size="5.20" fill="#111">Panel 3</text>
<text transform="translate(383.42,8.50) scale(0.83,1)" font-size="5.20" fill="#111">Panel 4</text>
<line x1="243.60" y1="63.30" x2="245.20" y2="63.30" stroke="#444" stroke-width="0.45"/>
<text transform="translate(241.20,65.10) scale(0.83,1)" font-size="5.40" text-anchor="end" fill="#111">0.0</text>
<line x1="243.60" y1="53.18" x2="245.20" y2="53.18" stroke="#444" stroke-width="0.45"/>
<text transform="translate(241.20,54.98) scale(0.83,1)" font-size="5.40" text-anchor="end" fill="#111">0.1</text>
<line x1="243.60" y1="43.07" x2="245.20" y2="43.07" stroke="#444" stroke-width="0.45"/>
<text transform="translate(241.20,44.87) scale(0.83,1)" font-size="5.40" text-anchor="end" fill="#111">0.2</text>
<line x1="243.60" y1="32.95" x2="245.20" y2="32.95" stroke="#444" stroke-width="0.45"/>
<text transform="translate(241.20,34.75) scale(0.83,1)" font-size="5.40" text-anchor="end" fill="#111">0.3</text>
<line x1="243.60" y1="22.83" x2="245.20" y2="22.83" stroke="#444" stroke-width="0.45"/>
<text transform="translate(241.20,24.63) scale(0.83,1)" font-size="5.40" text-anchor="end" fill="#111">0.4</text>
<line x1="243.60" y1="12.71" x2="245.20" y2="12.71" stroke="#444" stroke-width="0.45"/>
<text transform="translate(241.20,14.51) scale(0.83,1)" font-size="5.40" text-anchor="end" fill="#111">0.5</text>
<line x1="243.60" y1="2.60" x2="245.20" y2="2.60" stroke="#444" stroke-width="0.45"/>
<text transform="translate(241.20,4.40) scale(0.83,1)" font-size="5.40" text-anchor="end" fill="#111">0.6</text>
<text transform="translate(251.31,70.80) scale(0.83,1)" font-size="5.60" text-anchor="middle" fill="#111">25</text>
<text transform="translate(266.74,70.80) scale(0.83,1)" font-size="5.60" text-anchor="middle" fill="#111">15</text>
<text transform="translate(282.16,70.80) scale(0.83,1)" font-size="5.60" text-anchor="middle" fill="#111">5</text>
<text transform="translate(297.59,70.80) scale(0.83,1)" font-size="5.60" text-anchor="middle" fill="#111">25</text>
<text transform="translate(313.01,70.80) scale(0.83,1)" font-size="5.60" text-anchor="middle" fill="#111">15</text>
<text transform="translate(328.44,70.80) scale(0.83,1)" font-size="5.60" text-anchor="middle" fill="#111">5</text>
<text transform="translate(343.86,70.80) scale(0.83,1)" font-size="5.60" text-anchor="middle" fill="#111">25</text>
<text transform="translate(359.29,70.80) scale(0.83,1)" font-size="5.60" text-anchor="middle" fill="#111">15</text>
<text transform="translate(374.71,70.80) scale(0.83,1)" font-size="5.60" text-anchor="middle" fill="#111">5</text>
<text transform="translate(390.14,70.80) scale(0.83,1)" font-size="5.60" text-anchor="middle" fill="#111">25</text>
<text transform="translate(405.56,70.80) scale(0.83,1)" font-size="5.60" text-anchor="middle" fill="#111">15</text>
<text transform="translate(420.99,70.80) scale(0.83,1)" font-size="5.60" text-anchor="middle" fill="#111">5</text>
<text transform="translate(233.20,34.05) scale(0.83,1) rotate(-90)" font-size="5.30" text-anchor="middle" fill="#111" stroke-width="0.18" letter-spacing="0.25">Reduction factor <tspan font-style="italic">γ</tspan><tspan font-size="3.60" dy="1">s</tspan></text>
<text transform="translate(318.60,77.20) scale(0.83,1)" font-size="6.00" fill="#111"><tspan font-style="italic">H</tspan>/mm</text>
<rect x="332.90" y="72.20" width="9.80" height="6.20" fill="#0a69c0" stroke="#0b3c7c" stroke-width="0.5"/>
<text transform="translate(343.80,77.10) scale(0.83,1)" font-size="5.50" fill="#111"><tspan font-style="italic">φ</tspan>=6.8%</text>
<rect x="361.10" y="72.20" width="10.70" height="6.20" fill="url(#h2)" stroke="#1f426e" stroke-width="0.5"/>
<text transform="translate(372.90,77.10) scale(0.83,1)" font-size="5.50" fill="#111"><tspan font-style="italic">φ</tspan>=21.8%</text>
<rect x="391.40" y="72.20" width="10.80" height="6.20" fill="url(#h3)" stroke="#5b7f9f" stroke-width="0.5"/>
<text transform="translate(403.40,77.10) scale(0.83,1)" font-size="5.50" fill="#111"><tspan font-style="italic">φ</tspan>=36.8%</text>
</g>
<g id="chart2">
<rect x="244.94" y="120.87" width="3.65" height="29.63" fill="#0a69c0" stroke="#0b3c7c" stroke-width="0.6"/>
<rect x="260.36" y="121.92" width="3.65" height="28.58" fill="#0a69c0" stroke="#0b3c7c" stroke-width="0.6"/>
<rect x="275.79" y="116.68" width="3.65" height="33.82" fill="#0a69c0" stroke="#0b3c7c" stroke-width="0.6"/>
<rect x="291.21" y="118.25" width="3.65" height="32.25" fill="#0a69c0" stroke="#0b3c7c" stroke-width="0.6"/>
<rect x="306.64" y="119.82" width="3.65" height="30.68" fill="#0a69c0" stroke="#0b3c7c" stroke-width="0.6"/>
<rect x="322.06" y="115.63" width="3.65" height="34.87" fill="#0a69c0" stroke="#0b3c7c" stroke-width="0.6"/>
<rect x="337.49" y="118.78" width="3.65" height="31.72" fill="#0a69c0" stroke="#0b3c7c" stroke-width="0.6"/>
<rect x="352.91" y="119.30" width="3.65" height="31.20" fill="#0a69c0" stroke="#0b3c7c" stroke-width="0.6"/>
<rect x="368.34" y="115.63" width="3.65" height="34.87" fill="#0a69c0" stroke="#0b3c7c" stroke-width="0.6"/>
<rect x="383.76" y="111.44" width="3.65" height="39.06" fill="#0a69c0" stroke="#0b3c7c" stroke-width="0.6"/>
<rect x="399.19" y="113.01" width="3.65" height="37.49" fill="#0a69c0" stroke="#0b3c7c" stroke-width="0.6"/>
<rect x="414.61" y="108.29" width="3.65" height="42.21" fill="#0a69c0" stroke="#0b3c7c" stroke-width="0.6"/>
<clipPath id="c2b"><rect x="249.04" y="115.06" width="3.75" height="35.44"/><rect x="264.46" y="114.01" width="3.75" height="36.49"/><rect x="279.89" y="107.72" width="3.75" height="42.78"/><rect x="295.31" y="114.01" width="3.75" height="36.49"/><rect x="310.74" y="112.96" width="3.75" height="37.54"/><rect x="326.16" y="106.15" width="3.75" height="44.35"/><rect x="341.59" y="112.44" width="3.75" height="38.06"/><rect x="357.01" y="112.96" width="3.75" height="37.54"/><rect x="372.44" y="109.82" width="3.75" height="40.68"/><rect x="387.86" y="104.05" width="3.75" height="46.45"/><rect x="403.29" y="104.05" width="3.75" height="46.45"/><rect x="418.71" y="101.43" width="3.75" height="49.07"/></clipPath><clipPath id="c3b"><rect x="253.17" y="116.09" width="3.79" height="34.41"/><rect x="268.59" y="112.94" width="3.79" height="37.56"/><rect x="284.02" y="108.22" width="3.79" height="42.28"/><rect x="299.44" y="114.51" width="3.79" height="35.99"/><rect x="314.87" y="110.84" width="3.79" height="39.66"/><rect x="330.29" y="107.17" width="3.79" height="43.33"/><rect x="345.72" y="111.89" width="3.79" height="38.61"/><rect x="361.14" y="110.32" width="3.79" height="40.18"/><rect x="376.57" y="108.75" width="3.79" height="41.75"/><rect x="391.99" y="104.55" width="3.79" height="45.95"/><rect x="407.42" y="102.98" width="3.79" height="47.52"/><rect x="422.84" y="102.46" width="3.79" height="48.04"/></clipPath>
<g fill="#b6dff3"><rect x="249.04" y="115.06" width="3.75" height="35.44"/><rect x="264.46" y="114.01" width="3.75" height="36.49"/><rect x="279.89" y="107.72" width="3.75" height="42.78"/><rect x="295.31" y="114.01" width="3.75" height="36.49"/><rect x="310.74" y="112.96" width="3.75" height="37.54"/><rect x="326.16" y="106.15" width="3.75" height="44.35"/><rect x="341.59" y="112.44" width="3.75" height="38.06"/><rect x="357.01" y="112.96" width="3.75" height="37.54"/><rect x="372.44" y="109.82" width="3.75" height="40.68"/><rect x="387.86" y="104.05" width="3.75" height="46.45"/><rect x="403.29" y="104.05" width="3.75" height="46.45"/><rect x="418.71" y="101.43" width="3.75" height="49.07"/></g><g fill="#e3f3fb"><rect x="253.17" y="116.09" width="3.79" height="34.41"/><rect x="268.59" y="112.94" width="3.79" height="37.56"/><rect x="284.02" y="108.22" width="3.79" height="42.28"/><rect x="299.44" y="114.51" width="3.79" height="35.99"/><rect x="314.87" y="110.84" width="3.79" height="39.66"/><rect x="330.29" y="107.17" width="3.79" height="43.33"/><rect x="345.72" y="111.89" width="3.79" height="38.61"/><rect x="361.14" y="110.32" width="3.79" height="40.18"/><rect x="376.57" y="108.75" width="3.79" height="41.75"/><rect x="391.99" y="104.55" width="3.79" height="45.95"/><rect x="407.42" y="102.98" width="3.79" height="47.52"/><rect x="422.84" y="102.46" width="3.79" height="48.04"/></g>
<path clip-path="url(#c2b)" d="M194.40,136.53L316.20,-19.36M195.90,137.70L317.69,-18.19M197.40,138.87L319.19,-17.02M198.90,140.04L320.69,-15.85M200.39,141.21L322.19,-14.68M201.89,142.38L323.68,-13.51M203.39,143.55L325.18,-12.34M204.88,144.72L326.68,-11.17M206.38,145.89L328.17,-10.00M207.88,147.06L329.67,-8.83M209.38,148.22L331.17,-7.66M210.87,149.39L332.67,-6.49M212.37,150.56L334.16,-5.32M213.87,151.73L335.66,-4.15M215.36,152.90L337.16,-2.98M216.86,154.07L338.66,-1.81M218.36,155.24L340.15,-0.65M219.86,156.41L341.65,0.52M221.35,157.58L343.15,1.69M222.85,158.75L344.64,2.86M224.35,159.92L346.14,4.03M225.85,161.09L347.64,5.20M227.34,162.26L349.14,6.37M228.84,163.43L350.63,7.54M230.34,164.60L352.13,8.71M231.83,165.77L353.63,9.88M233.33,166.94L355.12,11.05M234.83,168.11L356.62,12.22M236.33,169.28L358.12,13.39M237.82,170.45L359.62,14.56M239.32,171.62L361.11,15.73M240.82,172.79L362.61,16.90M242.31,173.96L364.11,18.07M243.81,175.13L365.61,19.24M245.31,176.30L367.10,20.41M246.81,177.47L368.60,21.58M248.30,178.64L370.10,22.75M249.80,179.81L371.59,23.92M251.30,180.98L373.09,25.09M252.79,182.15L374.59,26.26M254.29,183.32L376.09,27.43M255.79,184.49L377.58,28.60M257.29,185.66L379.08,29.77M258.78,186.83L380.58,30.94M260.28,188.00L382.07,32.11M261.78,189.17L383.57,33.28M263.28,190.34L385.07,34.45M264.77,191.51L386.57,35.62M266.27,192.68L388.06,36.79M267.77,193.85L389.56,37.96M269.26,195.02L391.06,39.13M270.76,196.18L392.56,40.30M272.26,197.35L394.05,41.47M273.76,198.52L395.55,42.64M275.25,199.69L397.05,43.81M276.75,200.86L398.54,44.98M278.25,202.03L400.04,46.15M279.74,203.20L401.54,47.32M281.24,204.37L403.04,48.48M282.74,205.54L404.53,49.65M284.24,206.71L406.03,50.82M285.73,207.88L407.53,51.99M287.23,209.05L409.02,53.16M288.73,210.22L410.52,54.33M290.23,211.39L412.02,55.50M291.72,212.56L413.52,56.67M293.22,213.73L415.01,57.84M294.72,214.90L416.51,59.01M296.21,216.07L418.01,60.18M297.71,217.24L419.51,61.35M299.21,218.41L421.00,62.52M300.71,219.58L422.50,63.69M302.20,220.75L424.00,64.86M303.70,221.92L425.49,66.03M305.20,223.09L426.99,67.20M306.69,224.26L428.49,68.37M308.19,225.43L429.99,69.54M309.69,226.60L431.48,70.71M311.19,227.77L432.98,71.88M312.68,228.94L434.48,73.05M314.18,230.11L435.97,74.22M315.68,231.28L437.47,75.39M317.18,232.45L438.97,76.56M318.67,233.62L440.47,77.73M320.17,234.79L441.96,78.90M321.67,235.96L443.46,80.07M323.16,237.13L444.96,81.24M324.66,238.30L446.45,82.41M326.16,239.47L447.95,83.58M327.66,240.64L449.45,84.75M329.15,241.81L450.95,85.92M330.65,242.98L452.44,87.09M332.15,244.15L453.94,88.26M333.64,245.31L455.44,89.43M335.14,246.48L456.94,90.60M336.64,247.65L458.43,91.77M338.14,248.82L459.93,92.94M339.63,249.99L461.43,94.11M341.13,251.16L462.92,95.28M342.63,252.33L464.42,96.44M344.13,253.50L465.92,97.61M345.62,254.67L467.42,98.78M347.12,255.84L468.91,99.95M348.62,257.01L470.41,101.12M350.11,258.18L471.91,102.29M351.61,259.35L473.40,103.46M353.11,260.52L474.90,104.63M354.61,261.69L476.40,105.80M356.10,262.86L477.90,106.97" fill="none" stroke="#2a68a6" stroke-width="0.6"/>
<path clip-path="url(#c3b)" d="M365.90,-17.63L476.52,146.38M363.66,-16.12L474.28,147.89M361.42,-14.61L472.04,149.40M359.18,-13.10L469.81,150.91M356.94,-11.59L467.57,152.42M354.71,-10.08L465.33,153.93M352.47,-8.57L463.09,155.44M350.23,-7.06L460.85,156.95M347.99,-5.55L458.61,158.46M345.75,-4.04L456.37,159.97M343.51,-2.53L454.14,161.48M341.28,-1.02L451.90,162.99M339.04,0.49L449.66,164.50M336.80,2.00L447.42,166.01M334.56,3.51L445.18,167.52M332.32,5.02L442.94,169.03M330.08,6.53L440.71,170.54M327.85,8.04L438.47,172.05M325.61,9.55L436.23,173.56M323.37,11.06L433.99,175.07M321.13,12.57L431.75,176.58M318.89,14.08L429.51,178.09M316.65,15.59L427.28,179.60M314.41,17.10L425.04,181.11M312.18,18.61L422.80,182.61M309.94,20.12L420.56,184.12M307.70,21.63L418.32,185.63M305.46,23.14L416.08,187.14M303.22,24.65L413.85,188.65M300.98,26.16L411.61,190.16M298.75,27.67L409.37,191.67M296.51,29.18L407.13,193.18M294.27,30.69L404.89,194.69M292.03,32.20L402.65,196.20M289.79,33.71L400.41,197.71M287.55,35.22L398.18,199.22M285.32,36.73L395.94,200.73M283.08,38.24L393.70,202.24M280.84,39.75L391.46,203.75M278.60,41.26L389.22,205.26M276.36,42.77L386.98,206.77M274.12,44.28L384.75,208.28M271.89,45.79L382.51,209.79M269.65,47.30L380.27,211.30M267.41,48.81L378.03,212.81M265.17,50.32L375.79,214.32M262.93,51.83L373.55,215.83M260.69,53.34L371.32,217.34M258.45,54.85L369.08,218.85M256.22,56.36L366.84,220.36M253.98,57.87L364.60,221.87M251.74,59.38L362.36,223.38M249.50,60.89L360.12,224.89M247.26,62.39L357.89,226.40M245.02,63.90L355.65,227.91M242.79,65.41L353.41,229.42M240.55,66.92L351.17,230.93M238.31,68.43L348.93,232.44M236.07,69.94L346.69,233.95M233.83,71.45L344.45,235.46M231.59,72.96L342.22,236.97M229.36,74.47L339.98,238.48M227.12,75.98L337.74,239.99M224.88,77.49L335.50,241.50M222.64,79.00L333.26,243.01M220.40,80.51L331.02,244.52M218.16,82.02L328.79,246.03M215.93,83.53L326.55,247.54M213.69,85.04L324.31,249.05M211.45,86.55L322.07,250.56M209.21,88.06L319.83,252.07M206.97,89.57L317.59,253.58M204.73,91.08L315.36,255.09M202.49,92.59L313.12,256.60M200.26,94.10L310.88,258.11M198.02,95.61L308.64,259.62M195.78,97.12L306.40,261.13" fill="none" stroke="#6a93b8" stroke-width="0.55"/>
<g fill="none" stroke="#1f426e" stroke-width="0.5"><rect x="249.04" y="115.06" width="3.75" height="35.44"/><rect x="264.46" y="114.01" width="3.75" height="36.49"/><rect x="279.89" y="107.72" width="3.75" height="42.78"/><rect x="295.31" y="114.01" width="3.75" height="36.49"/><rect x="310.74" y="112.96" width="3.75" height="37.54"/><rect x="326.16" y="106.15" width="3.75" height="44.35"/><rect x="341.59" y="112.44" width="3.75" height="38.06"/><rect x="357.01" y="112.96" width="3.75" height="37.54"/><rect x="372.44" y="109.82" width="3.75" height="40.68"/><rect x="387.86" y="104.05" width="3.75" height="46.45"/><rect x="403.29" y="104.05" width="3.75" height="46.45"/><rect x="418.71" y="101.43" width="3.75" height="49.07"/></g><g fill="none" stroke="#5b7f9f" stroke-width="0.4"><rect x="253.17" y="116.09" width="3.79" height="34.41"/><rect x="268.59" y="112.94" width="3.79" height="37.56"/><rect x="284.02" y="108.22" width="3.79" height="42.28"/><rect x="299.44" y="114.51" width="3.79" height="35.99"/><rect x="314.87" y="110.84" width="3.79" height="39.66"/><rect x="330.29" y="107.17" width="3.79" height="43.33"/><rect x="345.72" y="111.89" width="3.79" height="38.61"/><rect x="361.14" y="110.32" width="3.79" height="40.18"/><rect x="376.57" y="108.75" width="3.79" height="41.75"/><rect x="391.99" y="104.55" width="3.79" height="45.95"/><rect x="407.42" y="102.98" width="3.79" height="47.52"/><rect x="422.84" y="102.46" width="3.79" height="48.04"/></g>
<text transform="translate(246.46,119.72) scale(0.83,1)" font-size="3.00" text-anchor="middle" fill="#505050" stroke="none">0.57</text>
<text transform="translate(251.21,113.06) scale(0.83,1)" font-size="3.00" text-anchor="middle" fill="#505050" stroke="none">0.68</text>
<text transform="translate(255.96,115.01) scale(0.83,1)" font-size="3.00" text-anchor="middle" fill="#505050" stroke="none">0.66</text>
<text transform="translate(261.89,120.77) scale(0.83,1)" font-size="3.00" text-anchor="middle" fill="#505050" stroke="none">0.55</text>
<text transform="translate(266.64,112.01) scale(0.83,1)" font-size="3.00" text-anchor="middle" fill="#505050" stroke="none">0.70</text>
<text transform="translate(271.39,111.86) scale(0.83,1)" font-size="3.00" text-anchor="middle" fill="#505050" stroke="none">0.72</text>
<text transform="translate(277.31,115.53) scale(0.83,1)" font-size="3.00" text-anchor="middle" fill="#505050" stroke="none">0.65</text>
<text transform="translate(282.06,105.72) scale(0.83,1)" font-size="3.00" text-anchor="middle" fill="#505050" stroke="none">0.82</text>
<text transform="translate(286.81,107.14) scale(0.83,1)" font-size="3.00" text-anchor="middle" fill="#505050" stroke="none">0.81</text>
<text transform="translate(292.74,117.10) scale(0.83,1)" font-size="3.00" text-anchor="middle" fill="#505050" stroke="none">0.62</text>
<text transform="translate(297.49,112.01) scale(0.83,1)" font-size="3.00" text-anchor="middle" fill="#505050" stroke="none">0.70</text>
<text transform="translate(302.24,113.43) scale(0.83,1)" font-size="3.00" text-anchor="middle" fill="#505050" stroke="none">0.69</text>
<text transform="translate(308.16,118.67) scale(0.83,1)" font-size="3.00" text-anchor="middle" fill="#505050" stroke="none">0.59</text>
<text transform="translate(312.91,110.96) scale(0.83,1)" font-size="3.00" text-anchor="middle" fill="#505050" stroke="none">0.72</text>
<text transform="translate(317.66,109.76) scale(0.83,1)" font-size="3.00" text-anchor="middle" fill="#505050" stroke="none">0.76</text>
<text transform="translate(323.59,114.48) scale(0.83,1)" font-size="3.00" text-anchor="middle" fill="#505050" stroke="none">0.67</text>
<text transform="translate(328.34,104.15) scale(0.83,1)" font-size="3.00" text-anchor="middle" fill="#505050" stroke="none">0.85</text>
<text transform="translate(333.09,106.09) scale(0.83,1)" font-size="3.00" text-anchor="middle" fill="#505050" stroke="none">0.83</text>
<text transform="translate(339.01,117.63) scale(0.83,1)" font-size="3.00" text-anchor="middle" fill="#505050" stroke="none">0.61</text>
<text transform="translate(343.76,110.44) scale(0.83,1)" font-size="3.00" text-anchor="middle" fill="#505050" stroke="none">0.73</text>
<text transform="translate(348.51,110.81) scale(0.83,1)" font-size="3.00" text-anchor="middle" fill="#505050" stroke="none">0.74</text>
<text transform="translate(354.44,118.15) scale(0.83,1)" font-size="3.00" text-anchor="middle" fill="#505050" stroke="none">0.60</text>
<text transform="translate(359.19,110.96) scale(0.83,1)" font-size="3.00" text-anchor="middle" fill="#505050" stroke="none">0.72</text>
<text transform="translate(363.94,109.24) scale(0.83,1)" font-size="3.00" text-anchor="middle" fill="#505050" stroke="none">0.77</text>
<text transform="translate(369.86,114.48) scale(0.83,1)" font-size="3.00" text-anchor="middle" fill="#505050" stroke="none">0.67</text>
<text transform="translate(374.61,107.82) scale(0.83,1)" font-size="3.00" text-anchor="middle" fill="#505050" stroke="none">0.78</text>
<text transform="translate(379.36,107.67) scale(0.83,1)" font-size="3.00" text-anchor="middle" fill="#505050" stroke="none">0.80</text>
<text transform="translate(385.29,110.29) scale(0.83,1)" font-size="3.00" text-anchor="middle" fill="#505050" stroke="none">0.75</text>
<text transform="translate(390.04,102.05) scale(0.83,1)" font-size="3.00" text-anchor="middle" fill="#505050" stroke="none">0.89</text>
<text transform="translate(394.79,103.47) scale(0.83,1)" font-size="3.00" text-anchor="middle" fill="#505050" stroke="none">0.88</text>
<text transform="translate(400.71,111.86) scale(0.83,1)" font-size="3.00" text-anchor="middle" fill="#505050" stroke="none">0.72</text>
<text transform="translate(405.46,102.05) scale(0.83,1)" font-size="3.00" text-anchor="middle" fill="#505050" stroke="none">0.89</text>
<text transform="translate(410.21,101.90) scale(0.83,1)" font-size="3.00" text-anchor="middle" fill="#505050" stroke="none">0.91</text>
<text transform="translate(416.14,107.14) scale(0.83,1)" font-size="3.00" text-anchor="middle" fill="#505050" stroke="none">0.81</text>
<text transform="translate(420.89,99.43) scale(0.83,1)" font-size="3.00" text-anchor="middle" fill="#505050" stroke="none">0.94</text>
<text transform="translate(425.64,101.38) scale(0.83,1)" font-size="3.00" text-anchor="middle" fill="#505050" stroke="none">0.92</text>
<rect x="243.60" y="93.00" width="185.10" height="57.50" fill="none" stroke="#555" stroke-width="0.55"/>
<line x1="289.88" y1="93.00" x2="289.88" y2="150.50" stroke="#555" stroke-width="0.5"/>
<line x1="336.15" y1="93.00" x2="336.15" y2="150.50" stroke="#555" stroke-width="0.5"/>
<line x1="382.42" y1="93.00" x2="382.42" y2="150.50" stroke="#555" stroke-width="0.5"/>
<text transform="translate(244.60,98.70) scale(0.83,1)" font-size="5.20" fill="#111">Panel 1</text>
<text transform="translate(290.88,98.70) scale(0.83,1)" font-size="5.20" fill="#111">Panel 2</text>
<text transform="translate(337.15,98.70) scale(0.83,1)" font-size="5.20" fill="#111">Panel 3</text>
<text transform="translate(383.42,98.70) scale(0.83,1)" font-size="5.20" fill="#111">Panel 4</text>
<line x1="243.60" y1="150.50" x2="245.20" y2="150.50" stroke="#444" stroke-width="0.45"/>
<text transform="translate(241.20,152.30) scale(0.83,1)" font-size="5.40" text-anchor="end" fill="#111">0.0</text>
<line x1="243.60" y1="140.02" x2="245.20" y2="140.02" stroke="#444" stroke-width="0.45"/>
<text transform="translate(241.20,141.82) scale(0.83,1)" font-size="5.40" text-anchor="end" fill="#111">0.2</text>
<line x1="243.60" y1="129.53" x2="245.20" y2="129.53" stroke="#444" stroke-width="0.45"/>
<text transform="translate(241.20,131.33) scale(0.83,1)" font-size="5.40" text-anchor="end" fill="#111">0.4</text>
<line x1="243.60" y1="119.05" x2="245.20" y2="119.05" stroke="#444" stroke-width="0.45"/>
<text transform="translate(241.20,120.85) scale(0.83,1)" font-size="5.40" text-anchor="end" fill="#111">0.6</text>
<line x1="243.60" y1="108.57" x2="245.20" y2="108.57" stroke="#444" stroke-width="0.45"/>
<text transform="translate(241.20,110.37) scale(0.83,1)" font-size="5.40" text-anchor="end" fill="#111">0.8</text>
<line x1="243.60" y1="98.08" x2="245.20" y2="98.08" stroke="#444" stroke-width="0.45"/>
<text transform="translate(241.20,99.88) scale(0.83,1)" font-size="5.40" text-anchor="end" fill="#111">1.0</text>
<text transform="translate(251.31,158.00) scale(0.83,1)" font-size="5.60" text-anchor="middle" fill="#111">25</text>
<text transform="translate(266.74,158.00) scale(0.83,1)" font-size="5.60" text-anchor="middle" fill="#111">15</text>
<text transform="translate(282.16,158.00) scale(0.83,1)" font-size="5.60" text-anchor="middle" fill="#111">5</text>
<text transform="translate(297.59,158.00) scale(0.83,1)" font-size="5.60" text-anchor="middle" fill="#111">25</text>
<text transform="translate(313.01,158.00) scale(0.83,1)" font-size="5.60" text-anchor="middle" fill="#111">15</text>
<text transform="translate(328.44,158.00) scale(0.83,1)" font-size="5.60" text-anchor="middle" fill="#111">5</text>
<text transform="translate(343.86,158.00) scale(0.83,1)" font-size="5.60" text-anchor="middle" fill="#111">25</text>
<text transform="translate(359.29,158.00) scale(0.83,1)" font-size="5.60" text-anchor="middle" fill="#111">15</text>
<text transform="translate(374.71,158.00) scale(0.83,1)" font-size="5.60" text-anchor="middle" fill="#111">5</text>
<text transform="translate(390.14,158.00) scale(0.83,1)" font-size="5.60" text-anchor="middle" fill="#111">25</text>
<text transform="translate(405.56,158.00) scale(0.83,1)" font-size="5.60" text-anchor="middle" fill="#111">15</text>
<text transform="translate(420.99,158.00) scale(0.83,1)" font-size="5.60" text-anchor="middle" fill="#111">5</text>
<text transform="translate(233.20,122.75) scale(0.83,1) rotate(-90)" font-size="5.30" text-anchor="middle" fill="#111" stroke-width="0.18" letter-spacing="0.25">Reduction factor <tspan font-style="italic">γ</tspan><tspan font-size="3.60" dy="1">r</tspan></text>
<text transform="translate(318.60,164.40) scale(0.83,1)" font-size="6.00" fill="#111"><tspan font-style="italic">H</tspan>/mm</text>
<rect x="332.90" y="159.40" width="9.80" height="6.20" fill="#0a69c0" stroke="#0b3c7c" stroke-width="0.5"/>
<text transform="translate(343.80,164.30) scale(0.83,1)" font-size="5.50" fill="#111"><tspan font-style="italic">φ</tspan>=6.8%</text>
<rect x="361.10" y="159.40" width="10.70" height="6.20" fill="url(#h2)" stroke="#1f426e" stroke-width="0.5"/>
<text transform="translate(372.90,164.30) scale(0.83,1)" font-size="5.50" fill="#111"><tspan font-style="italic">φ</tspan>=21.8%</text>
<rect x="391.40" y="159.40" width="10.80" height="6.20" fill="url(#h3)" stroke="#5b7f9f" stroke-width="0.5"/>
<text transform="translate(403.40,164.30) scale(0.83,1)" font-size="5.50" fill="#111"><tspan font-style="italic">φ</tspan>=36.8%</text>
</g>
<g id="chart3">
<rect x="239.82" y="199.18" width="3.85" height="37.02" fill="#0a69c0" stroke="#0b3c7c" stroke-width="0.6"/>
<rect x="256.01" y="209.46" width="3.85" height="26.74" fill="#0a69c0" stroke="#0b3c7c" stroke-width="0.6"/>
<rect x="272.20" y="212.32" width="3.85" height="23.88" fill="#0a69c0" stroke="#0b3c7c" stroke-width="0.6"/>
<rect x="288.39" y="199.18" width="3.85" height="37.02" fill="#0a69c0" stroke="#0b3c7c" stroke-width="0.6"/>
<rect x="304.58" y="208.24" width="3.85" height="27.96" fill="#0a69c0" stroke="#0b3c7c" stroke-width="0.6"/>
<rect x="320.77" y="212.32" width="3.85" height="23.88" fill="#0a69c0" stroke="#0b3c7c" stroke-width="0.6"/>
<rect x="336.97" y="197.86" width="3.85" height="38.34" fill="#0a69c0" stroke="#0b3c7c" stroke-width="0.6"/>
<rect x="353.16" y="210.79" width="3.85" height="25.41" fill="#0a69c0" stroke="#0b3c7c" stroke-width="0.6"/>
<rect x="369.35" y="213.13" width="3.85" height="23.07" fill="#0a69c0" stroke="#0b3c7c" stroke-width="0.6"/>
<rect x="385.54" y="203.46" width="3.85" height="32.74" fill="#0a69c0" stroke="#0b3c7c" stroke-width="0.6"/>
<rect x="401.73" y="205.90" width="3.85" height="30.30" fill="#0a69c0" stroke="#0b3c7c" stroke-width="0.6"/>
<rect x="417.92" y="209.97" width="3.85" height="26.23" fill="#0a69c0" stroke="#0b3c7c" stroke-width="0.6"/>
<clipPath id="c2c"><rect x="244.12" y="203.41" width="3.95" height="32.79"/><rect x="260.31" y="212.27" width="3.95" height="23.93"/><rect x="276.50" y="218.38" width="3.95" height="17.82"/><rect x="292.69" y="205.54" width="3.95" height="30.66"/><rect x="308.89" y="211.45" width="3.95" height="24.75"/><rect x="325.08" y="221.12" width="3.95" height="15.07"/><rect x="341.27" y="209.92" width="3.95" height="26.28"/><rect x="357.46" y="210.74" width="3.95" height="25.46"/><rect x="373.65" y="222.25" width="3.95" height="13.95"/><rect x="389.84" y="205.54" width="3.95" height="30.66"/><rect x="406.04" y="207.48" width="3.95" height="28.72"/><rect x="422.23" y="216.64" width="3.95" height="19.56"/></clipPath><clipPath id="c3c"><rect x="248.45" y="208.27" width="3.99" height="27.93"/><rect x="264.64" y="217.85" width="3.99" height="18.35"/><rect x="280.84" y="224.77" width="3.99" height="11.43"/><rect x="297.03" y="212.25" width="3.99" height="23.95"/><rect x="313.22" y="221.10" width="3.99" height="15.09"/><rect x="329.41" y="224.77" width="3.99" height="11.43"/><rect x="345.60" y="215.50" width="3.99" height="20.70"/><rect x="361.79" y="220.60" width="3.99" height="15.60"/><rect x="377.99" y="225.08" width="3.99" height="11.12"/><rect x="394.18" y="215.50" width="3.99" height="20.70"/><rect x="410.37" y="215.50" width="3.99" height="20.70"/><rect x="426.56" y="222.63" width="3.99" height="13.57"/></clipPath>
<g fill="#b6dff3"><rect x="244.12" y="203.41" width="3.95" height="32.79"/><rect x="260.31" y="212.27" width="3.95" height="23.93"/><rect x="276.50" y="218.38" width="3.95" height="17.82"/><rect x="292.69" y="205.54" width="3.95" height="30.66"/><rect x="308.89" y="211.45" width="3.95" height="24.75"/><rect x="325.08" y="221.12" width="3.95" height="15.07"/><rect x="341.27" y="209.92" width="3.95" height="26.28"/><rect x="357.46" y="210.74" width="3.95" height="25.46"/><rect x="373.65" y="222.25" width="3.95" height="13.95"/><rect x="389.84" y="205.54" width="3.95" height="30.66"/><rect x="406.04" y="207.48" width="3.95" height="28.72"/><rect x="422.23" y="216.64" width="3.95" height="19.56"/></g><g fill="#e3f3fb"><rect x="248.45" y="208.27" width="3.99" height="27.93"/><rect x="264.64" y="217.85" width="3.99" height="18.35"/><rect x="280.84" y="224.77" width="3.99" height="11.43"/><rect x="297.03" y="212.25" width="3.99" height="23.95"/><rect x="313.22" y="221.10" width="3.99" height="15.09"/><rect x="329.41" y="224.77" width="3.99" height="11.43"/><rect x="345.60" y="215.50" width="3.99" height="20.70"/><rect x="361.79" y="220.60" width="3.99" height="15.60"/><rect x="377.99" y="225.08" width="3.99" height="11.12"/><rect x="394.18" y="215.50" width="3.99" height="20.70"/><rect x="410.37" y="215.50" width="3.99" height="20.70"/><rect x="426.56" y="222.63" width="3.99" height="13.57"/></g>
<path clip-path="url(#c2c)" d="M187.78,221.97L315.64,58.32M189.27,223.14L317.13,59.49M190.77,224.31L318.63,60.66M192.27,225.48L320.13,61.83M193.76,226.65L321.62,63.00M195.26,227.82L323.12,64.17M196.76,228.99L324.62,65.33M198.26,230.16L326.12,66.50M199.75,231.33L327.61,67.67M201.25,232.50L329.11,68.84M202.75,233.67L330.61,70.01M204.24,234.84L332.11,71.18M205.74,236.01L333.60,72.35M207.24,237.18L335.10,73.52M208.74,238.35L336.60,74.69M210.23,239.52L338.09,75.86M211.73,240.69L339.59,77.03M213.23,241.86L341.09,78.20M214.73,243.03L342.59,79.37M216.22,244.20L344.08,80.54M217.72,245.37L345.58,81.71M219.22,246.54L347.08,82.88M220.71,247.71L348.57,84.05M222.21,248.88L350.07,85.22M223.71,250.04L351.57,86.39M225.21,251.21L353.07,87.56M226.70,252.38L354.56,88.73M228.20,253.55L356.06,89.90M229.70,254.72L357.56,91.07M231.19,255.89L359.06,92.24M232.69,257.06L360.55,93.41M234.19,258.23L362.05,94.58M235.69,259.40L363.55,95.75M237.18,260.57L365.04,96.92M238.68,261.74L366.54,98.09M240.18,262.91L368.04,99.26M241.68,264.08L369.54,100.43M243.17,265.25L371.03,101.60M244.67,266.42L372.53,102.77M246.17,267.59L374.03,103.94M247.66,268.76L375.52,105.11M249.16,269.93L377.02,106.28M250.66,271.10L378.52,107.45M252.16,272.27L380.02,108.62M253.65,273.44L381.51,109.79M255.15,274.61L383.01,110.96M256.65,275.78L384.51,112.13M258.14,276.95L386.01,113.29M259.64,278.12L387.50,114.46M261.14,279.29L389.00,115.63M262.64,280.46L390.50,116.80M264.13,281.63L391.99,117.97M265.63,282.80L393.49,119.14M267.13,283.97L394.99,120.31M268.63,285.14L396.49,121.48M270.12,286.31L397.98,122.65M271.62,287.48L399.48,123.82M273.12,288.65L400.98,124.99M274.61,289.82L402.47,126.16M276.11,290.99L403.97,127.33M277.61,292.16L405.47,128.50M279.11,293.33L406.97,129.67M280.60,294.50L408.46,130.84M282.10,295.67L409.96,132.01M283.60,296.84L411.46,133.18M285.09,298.01L412.96,134.35M286.59,299.17L414.45,135.52M288.09,300.34L415.95,136.69M289.59,301.51L417.45,137.86M291.08,302.68L418.94,139.03M292.58,303.85L420.44,140.20M294.08,305.02L421.94,141.37M295.58,306.19L423.44,142.54M297.07,307.36L424.93,143.71M298.57,308.53L426.43,144.88M300.07,309.70L427.93,146.05M301.56,310.87L429.42,147.22M303.06,312.04L430.92,148.39M304.56,313.21L432.42,149.56M306.06,314.38L433.92,150.73M307.55,315.55L435.41,151.90M309.05,316.72L436.91,153.07M310.55,317.89L438.41,154.24M312.04,319.06L439.91,155.41M313.54,320.23L441.40,156.58M315.04,321.40L442.90,157.75M316.54,322.57L444.40,158.92M318.03,323.74L445.89,160.09M319.53,324.91L447.39,161.26M321.03,326.08L448.89,162.42M322.53,327.25L450.39,163.59M324.02,328.42L451.88,164.76M325.52,329.59L453.38,165.93M327.02,330.76L454.88,167.10M328.51,331.93L456.37,168.27M330.01,333.10L457.87,169.44M331.51,334.27L459.37,170.61M333.01,335.44L460.87,171.78M334.50,336.61L462.36,172.95M336.00,337.78L463.86,174.12M337.50,338.95L465.36,175.29M338.99,340.12L466.86,176.46M340.49,341.29L468.35,177.63M341.99,342.46L469.85,178.80M343.49,343.63L471.35,179.97M344.98,344.80L472.84,181.14M346.48,345.97L474.34,182.31M347.98,347.13L475.84,183.48M349.48,348.30L477.34,184.65M350.97,349.47L478.83,185.82M352.47,350.64L480.33,186.99M353.97,351.81L481.83,188.16M355.46,352.98L483.32,189.33" fill="none" stroke="#2a68a6" stroke-width="0.6"/>
<path clip-path="url(#c3c)" d="M367.02,59.17L483.15,231.34M364.78,60.68L480.91,232.85M362.54,62.19L478.68,234.36M360.30,63.70L476.44,235.87M358.07,65.21L474.20,237.38M355.83,66.72L471.96,238.89M353.59,68.23L469.72,240.40M351.35,69.74L467.48,241.91M349.11,71.25L465.25,243.42M346.87,72.76L463.01,244.93M344.64,74.27L460.77,246.44M342.40,75.78L458.53,247.95M340.16,77.29L456.29,249.46M337.92,78.80L454.05,250.97M335.68,80.31L451.82,252.48M333.44,81.82L449.58,253.99M331.20,83.33L447.34,255.50M328.97,84.84L445.10,257.01M326.73,86.35L442.86,258.52M324.49,87.86L440.62,260.03M322.25,89.37L438.38,261.54M320.01,90.88L436.15,263.05M317.77,92.39L433.91,264.56M315.54,93.90L431.67,266.07M313.30,95.41L429.43,267.58M311.06,96.92L427.19,269.09M308.82,98.43L424.95,270.60M306.58,99.93L422.72,272.11M304.34,101.44L420.48,273.62M302.11,102.95L418.24,275.13M299.87,104.46L416.00,276.64M297.63,105.97L413.76,278.15M295.39,107.48L411.52,279.66M293.15,108.99L409.29,281.17M290.91,110.50L407.05,282.68M288.68,112.01L404.81,284.19M286.44,113.52L402.57,285.70M284.20,115.03L400.33,287.21M281.96,116.54L398.09,288.72M279.72,118.05L395.86,290.23M277.48,119.56L393.62,291.74M275.24,121.07L391.38,293.25M273.01,122.58L389.14,294.76M270.77,124.09L386.90,296.27M268.53,125.60L384.66,297.78M266.29,127.11L382.42,299.29M264.05,128.62L380.19,300.80M261.81,130.13L377.95,302.31M259.58,131.64L375.71,303.82M257.34,133.15L373.47,305.33M255.10,134.66L371.23,306.84M252.86,136.17L368.99,308.35M250.62,137.68L366.76,309.86M248.38,139.19L364.52,311.37M246.15,140.70L362.28,312.87M243.91,142.21L360.04,314.38M241.67,143.72L357.80,315.89M239.43,145.23L355.56,317.40M237.19,146.74L353.33,318.91M234.95,148.25L351.09,320.42M232.72,149.76L348.85,321.93M230.48,151.27L346.61,323.44M228.24,152.78L344.37,324.95M226.00,154.29L342.13,326.46M223.76,155.80L339.90,327.97M221.52,157.31L337.66,329.48M219.28,158.82L335.42,330.99M217.05,160.33L333.18,332.50M214.81,161.84L330.94,334.01M212.57,163.35L328.70,335.52M210.33,164.86L326.46,337.03M208.09,166.37L324.23,338.54M205.85,167.88L321.99,340.05M203.62,169.39L319.75,341.56M201.38,170.90L317.51,343.07M199.14,172.41L315.27,344.58M196.90,173.92L313.03,346.09M194.66,175.43L310.80,347.60M192.42,176.94L308.56,349.11M190.19,178.45L306.32,350.62M187.95,179.96L304.08,352.13" fill="none" stroke="#6a93b8" stroke-width="0.55"/>
<g fill="none" stroke="#1f426e" stroke-width="0.5"><rect x="244.12" y="203.41" width="3.95" height="32.79"/><rect x="260.31" y="212.27" width="3.95" height="23.93"/><rect x="276.50" y="218.38" width="3.95" height="17.82"/><rect x="292.69" y="205.54" width="3.95" height="30.66"/><rect x="308.89" y="211.45" width="3.95" height="24.75"/><rect x="325.08" y="221.12" width="3.95" height="15.07"/><rect x="341.27" y="209.92" width="3.95" height="26.28"/><rect x="357.46" y="210.74" width="3.95" height="25.46"/><rect x="373.65" y="222.25" width="3.95" height="13.95"/><rect x="389.84" y="205.54" width="3.95" height="30.66"/><rect x="406.04" y="207.48" width="3.95" height="28.72"/><rect x="422.23" y="216.64" width="3.95" height="19.56"/></g><g fill="none" stroke="#5b7f9f" stroke-width="0.4"><rect x="248.45" y="208.27" width="3.99" height="27.93"/><rect x="264.64" y="217.85" width="3.99" height="18.35"/><rect x="280.84" y="224.77" width="3.99" height="11.43"/><rect x="297.03" y="212.25" width="3.99" height="23.95"/><rect x="313.22" y="221.10" width="3.99" height="15.09"/><rect x="329.41" y="224.77" width="3.99" height="11.43"/><rect x="345.60" y="215.50" width="3.99" height="20.70"/><rect x="361.79" y="220.60" width="3.99" height="15.60"/><rect x="377.99" y="225.08" width="3.99" height="11.12"/><rect x="394.18" y="215.50" width="3.99" height="20.70"/><rect x="410.37" y="215.50" width="3.99" height="20.70"/><rect x="426.56" y="222.63" width="3.99" height="13.57"/></g>
<text transform="translate(241.44,198.03) scale(0.83,1)" font-size="3.15" text-anchor="middle" fill="#505050" stroke="none">-0.37</text>
<text transform="translate(246.40,201.41) scale(0.83,1)" font-size="3.15" text-anchor="middle" fill="#505050" stroke="none">-0.32</text>
<text transform="translate(251.35,207.19) scale(0.83,1)" font-size="3.15" text-anchor="middle" fill="#505050" stroke="none">-0.28</text>
<text transform="translate(257.63,208.31) scale(0.83,1)" font-size="3.15" text-anchor="middle" fill="#505050" stroke="none">-0.27</text>
<text transform="translate(262.59,210.27) scale(0.83,1)" font-size="3.15" text-anchor="middle" fill="#505050" stroke="none">-0.24</text>
<text transform="translate(267.54,216.77) scale(0.83,1)" font-size="3.15" text-anchor="middle" fill="#505050" stroke="none">-0.18</text>
<text transform="translate(273.83,211.17) scale(0.83,1)" font-size="3.15" text-anchor="middle" fill="#505050" stroke="none">-0.24</text>
<text transform="translate(278.78,216.38) scale(0.83,1)" font-size="3.15" text-anchor="middle" fill="#505050" stroke="none">-0.18</text>
<text transform="translate(283.73,223.69) scale(0.83,1)" font-size="3.15" text-anchor="middle" fill="#505050" stroke="none">-0.11</text>
<text transform="translate(290.02,198.03) scale(0.83,1)" font-size="3.15" text-anchor="middle" fill="#505050" stroke="none">-0.37</text>
<text transform="translate(294.97,203.54) scale(0.83,1)" font-size="3.15" text-anchor="middle" fill="#505050" stroke="none">-0.30</text>
<text transform="translate(299.92,211.17) scale(0.83,1)" font-size="3.15" text-anchor="middle" fill="#505050" stroke="none">-0.24</text>
<text transform="translate(306.21,207.09) scale(0.83,1)" font-size="3.15" text-anchor="middle" fill="#505050" stroke="none">-0.28</text>
<text transform="translate(311.16,209.45) scale(0.83,1)" font-size="3.15" text-anchor="middle" fill="#505050" stroke="none">-0.24</text>
<text transform="translate(316.12,220.02) scale(0.83,1)" font-size="3.15" text-anchor="middle" fill="#505050" stroke="none">-0.15</text>
<text transform="translate(322.40,211.17) scale(0.83,1)" font-size="3.15" text-anchor="middle" fill="#505050" stroke="none">-0.24</text>
<text transform="translate(327.35,219.12) scale(0.83,1)" font-size="3.15" text-anchor="middle" fill="#505050" stroke="none">-0.15</text>
<text transform="translate(332.31,223.69) scale(0.83,1)" font-size="3.15" text-anchor="middle" fill="#505050" stroke="none">-0.11</text>
<text transform="translate(338.59,196.71) scale(0.83,1)" font-size="3.15" text-anchor="middle" fill="#505050" stroke="none">-0.38</text>
<text transform="translate(343.55,207.92) scale(0.83,1)" font-size="3.15" text-anchor="middle" fill="#505050" stroke="none">-0.26</text>
<text transform="translate(348.50,214.42) scale(0.83,1)" font-size="3.15" text-anchor="middle" fill="#505050" stroke="none">-0.20</text>
<text transform="translate(354.78,209.64) scale(0.83,1)" font-size="3.15" text-anchor="middle" fill="#505050" stroke="none">-0.25</text>
<text transform="translate(359.74,208.74) scale(0.83,1)" font-size="3.15" text-anchor="middle" fill="#505050" stroke="none">-0.25</text>
<text transform="translate(364.69,219.52) scale(0.83,1)" font-size="3.15" text-anchor="middle" fill="#505050" stroke="none">-0.15</text>
<text transform="translate(370.98,211.98) scale(0.83,1)" font-size="3.15" text-anchor="middle" fill="#505050" stroke="none">-0.23</text>
<text transform="translate(375.93,220.25) scale(0.83,1)" font-size="3.15" text-anchor="middle" fill="#505050" stroke="none">-0.14</text>
<text transform="translate(380.88,224.00) scale(0.83,1)" font-size="3.15" text-anchor="middle" fill="#505050" stroke="none">-0.11</text>
<text transform="translate(387.17,202.31) scale(0.83,1)" font-size="3.15" text-anchor="middle" fill="#505050" stroke="none">-0.32</text>
<text transform="translate(392.12,203.54) scale(0.83,1)" font-size="3.15" text-anchor="middle" fill="#505050" stroke="none">-0.30</text>
<text transform="translate(397.07,214.42) scale(0.83,1)" font-size="3.15" text-anchor="middle" fill="#505050" stroke="none">-0.20</text>
<text transform="translate(403.36,204.75) scale(0.83,1)" font-size="3.15" text-anchor="middle" fill="#505050" stroke="none">-0.30</text>
<text transform="translate(408.31,205.48) scale(0.83,1)" font-size="3.15" text-anchor="middle" fill="#505050" stroke="none">-0.28</text>
<text transform="translate(413.27,214.42) scale(0.83,1)" font-size="3.15" text-anchor="middle" fill="#505050" stroke="none">-0.20</text>
<text transform="translate(419.55,208.82) scale(0.83,1)" font-size="3.15" text-anchor="middle" fill="#505050" stroke="none">-0.26</text>
<text transform="translate(424.50,214.64) scale(0.83,1)" font-size="3.15" text-anchor="middle" fill="#505050" stroke="none">-0.19</text>
<text transform="translate(429.46,221.55) scale(0.83,1)" font-size="3.15" text-anchor="middle" fill="#505050" stroke="none">-0.14</text>
<rect x="238.40" y="175.10" width="194.30" height="61.10" fill="none" stroke="#555" stroke-width="0.55"/>
<line x1="286.98" y1="175.10" x2="286.98" y2="236.20" stroke="#555" stroke-width="0.5"/>
<line x1="335.55" y1="175.10" x2="335.55" y2="236.20" stroke="#555" stroke-width="0.5"/>
<line x1="384.12" y1="175.10" x2="384.12" y2="236.20" stroke="#555" stroke-width="0.5"/>
<text transform="translate(239.45,181.08) scale(0.83,1)" font-size="5.45" fill="#111">Panel 1</text>
<text transform="translate(288.02,181.08) scale(0.83,1)" font-size="5.45" fill="#111">Panel 2</text>
<text transform="translate(336.60,181.08) scale(0.83,1)" font-size="5.45" fill="#111">Panel 3</text>
<text transform="translate(385.17,181.08) scale(0.83,1)" font-size="5.45" fill="#111">Panel 4</text>
<line x1="238.40" y1="236.20" x2="240.08" y2="236.20" stroke="#444" stroke-width="0.45"/>
<text transform="translate(235.60,238.09) scale(0.83,1)" font-size="5.66" text-anchor="end" fill="#111">0.0</text>
<line x1="238.40" y1="226.02" x2="240.08" y2="226.02" stroke="#444" stroke-width="0.45"/>
<text transform="translate(235.60,227.90) scale(0.83,1)" font-size="5.66" text-anchor="end" fill="#111">-0.1</text>
<line x1="238.40" y1="215.83" x2="240.08" y2="215.83" stroke="#444" stroke-width="0.45"/>
<text transform="translate(235.60,217.72) scale(0.83,1)" font-size="5.66" text-anchor="end" fill="#111">-0.2</text>
<line x1="238.40" y1="205.65" x2="240.08" y2="205.65" stroke="#444" stroke-width="0.45"/>
<text transform="translate(235.60,207.54) scale(0.83,1)" font-size="5.66" text-anchor="end" fill="#111">-0.3</text>
<line x1="238.40" y1="195.47" x2="240.08" y2="195.47" stroke="#444" stroke-width="0.45"/>
<text transform="translate(235.60,197.35) scale(0.83,1)" font-size="5.66" text-anchor="end" fill="#111">-0.4</text>
<line x1="238.40" y1="185.28" x2="240.08" y2="185.28" stroke="#444" stroke-width="0.45"/>
<text transform="translate(235.60,187.17) scale(0.83,1)" font-size="5.66" text-anchor="end" fill="#111">-0.5</text>
<line x1="238.40" y1="175.10" x2="240.08" y2="175.10" stroke="#444" stroke-width="0.45"/>
<text transform="translate(235.60,176.99) scale(0.83,1)" font-size="5.66" text-anchor="end" fill="#111">-0.6</text>
<text transform="translate(246.50,244.07) scale(0.83,1)" font-size="5.87" text-anchor="middle" fill="#111">25</text>
<text transform="translate(262.69,244.07) scale(0.83,1)" font-size="5.87" text-anchor="middle" fill="#111">15</text>
<text transform="translate(278.88,244.07) scale(0.83,1)" font-size="5.87" text-anchor="middle" fill="#111">5</text>
<text transform="translate(295.07,244.07) scale(0.83,1)" font-size="5.87" text-anchor="middle" fill="#111">25</text>
<text transform="translate(311.26,244.07) scale(0.83,1)" font-size="5.87" text-anchor="middle" fill="#111">15</text>
<text transform="translate(327.45,244.07) scale(0.83,1)" font-size="5.87" text-anchor="middle" fill="#111">5</text>
<text transform="translate(343.65,244.07) scale(0.83,1)" font-size="5.87" text-anchor="middle" fill="#111">25</text>
<text transform="translate(359.84,244.07) scale(0.83,1)" font-size="5.87" text-anchor="middle" fill="#111">15</text>
<text transform="translate(376.03,244.07) scale(0.83,1)" font-size="5.87" text-anchor="middle" fill="#111">5</text>
<text transform="translate(392.22,244.07) scale(0.83,1)" font-size="5.87" text-anchor="middle" fill="#111">25</text>
<text transform="translate(408.41,244.07) scale(0.83,1)" font-size="5.87" text-anchor="middle" fill="#111">15</text>
<text transform="translate(424.60,244.07) scale(0.83,1)" font-size="5.87" text-anchor="middle" fill="#111">5</text>
<text transform="translate(226.00,206.65) scale(0.83,1) rotate(-90)" font-size="5.56" text-anchor="middle" fill="#111" stroke-width="0.18" letter-spacing="0.25">Convert factor <tspan font-style="italic">γ</tspan><tspan font-size="3.78" dy="1">c</tspan></text>
<text transform="translate(317.07,249.73) scale(0.83,1)" font-size="6.29" fill="#111"><tspan font-style="italic">H</tspan>/mm</text>
<rect x="332.08" y="244.49" width="10.28" height="6.50" fill="#0a69c0" stroke="#0b3c7c" stroke-width="0.5"/>
<text transform="translate(343.51,249.63) scale(0.83,1)" font-size="5.77" fill="#111"><tspan font-style="italic">φ</tspan>=6.8%</text>
<rect x="361.66" y="244.49" width="11.22" height="6.50" fill="url(#h2)" stroke="#1f426e" stroke-width="0.5"/>
<text transform="translate(374.04,249.63) scale(0.83,1)" font-size="5.77" fill="#111"><tspan font-style="italic">φ</tspan>=21.8%</text>
<rect x="393.44" y="244.49" width="11.33" height="6.50" fill="url(#h3)" stroke="#5b7f9f" stroke-width="0.5"/>
<text transform="translate(406.03,249.63) scale(0.83,1)" font-size="5.77" fill="#111"><tspan font-style="italic">φ</tspan>=36.8%</text>
</g>
</svg></body></html>
